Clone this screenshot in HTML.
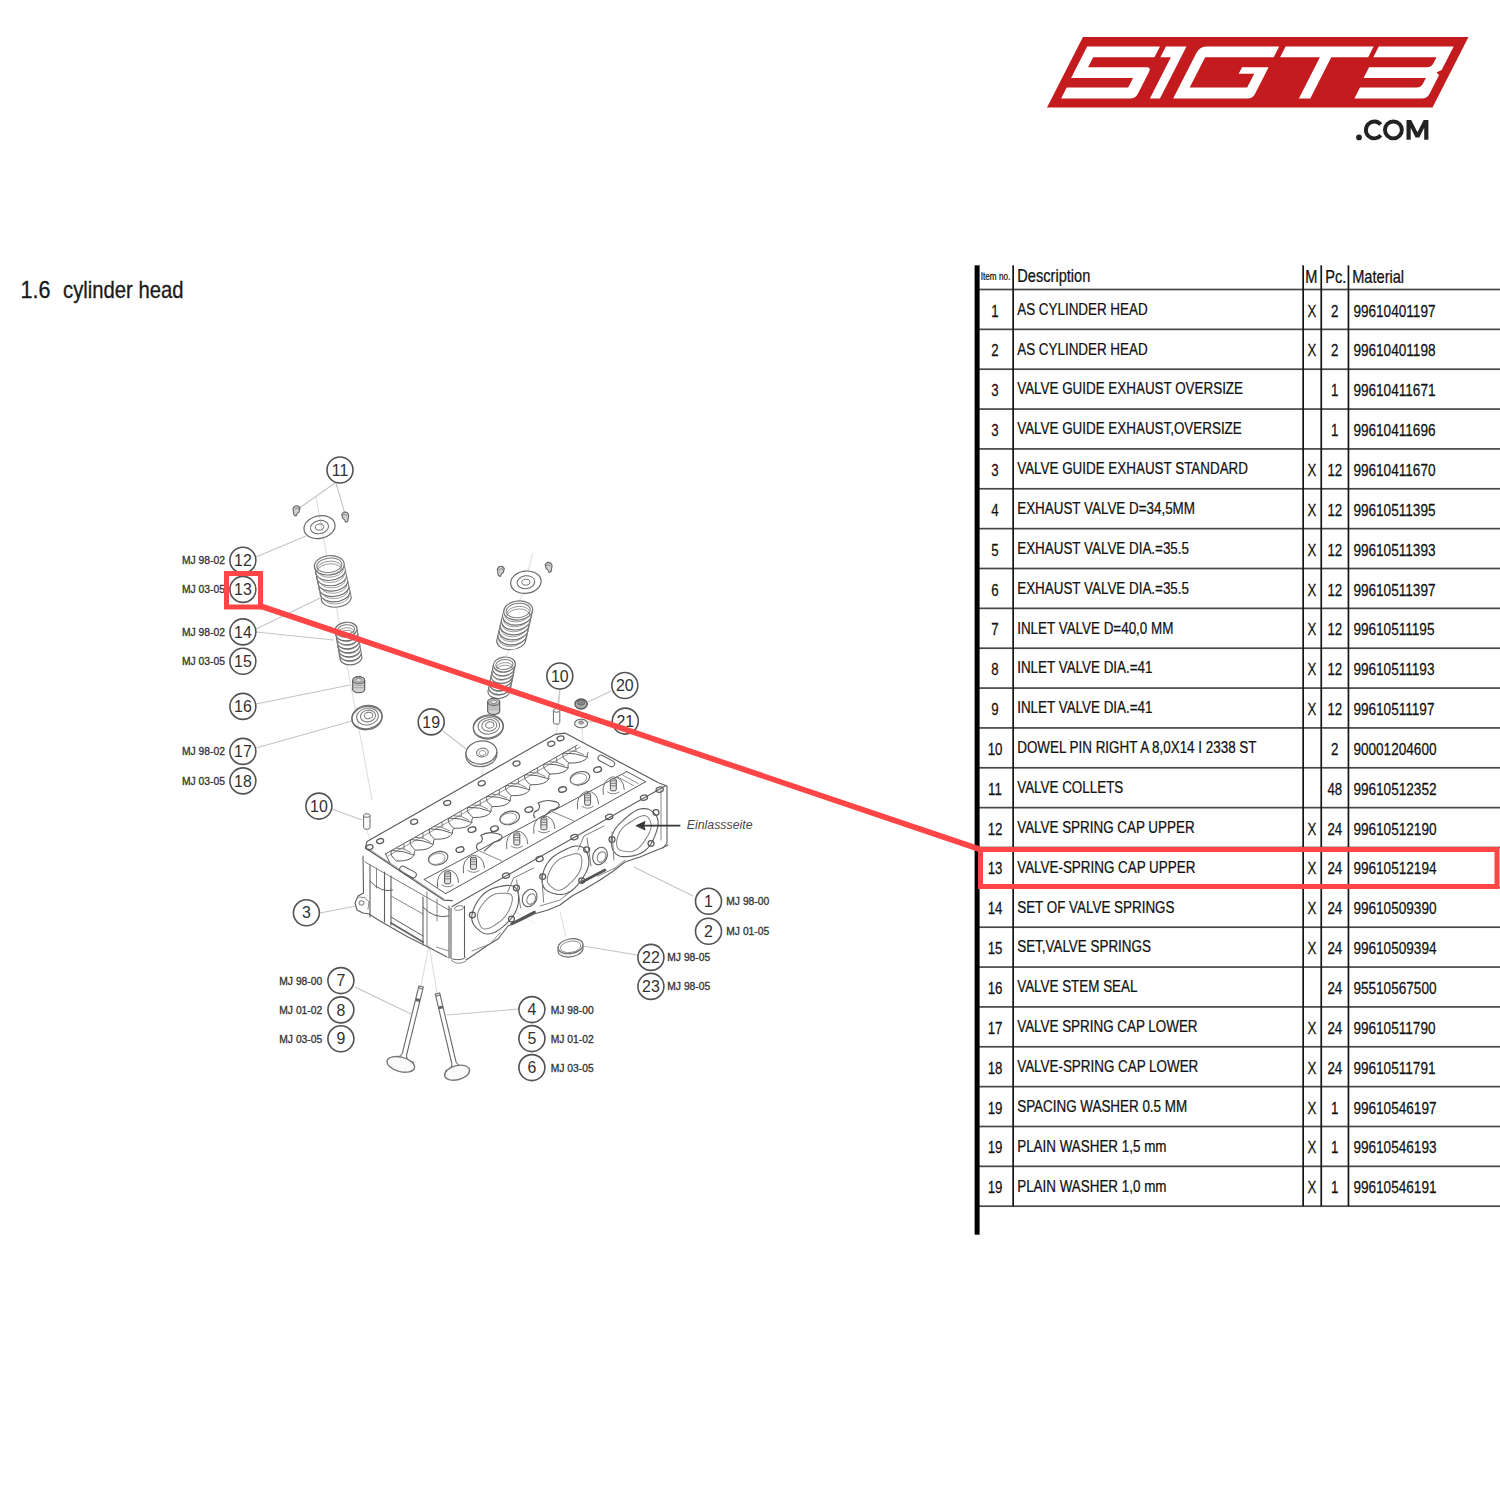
<!DOCTYPE html>
<html><head><meta charset="utf-8"><title>cylinder head</title>
<style>html,body{margin:0;padding:0;background:#fff;width:1500px;height:1500px;overflow:hidden}svg{display:block}</style>
</head><body>
<svg width="1500" height="1500" viewBox="0 0 1500 1500">
<rect width="1500" height="1500" fill="#fff"/>
<g transform="translate(0,107.6) skewX(-26.999) translate(0,-107.6)">
<rect x="1047" y="37" width="385.5" height="70.6" fill="#C31B1E"/>
<path fill="#FFFFFF" d="M1056 46.4 H1128.8 V57.2 H1067.5 V67.2 H1126 Q1130.8 67.2 1130.8 71.7 V93.4 Q1130.8 98.4 1125.8 98.4 H1056.5 V87.6 H1118 V78.0 H1056 Z"/>
<path fill="#FFFFFF" d="M1134.7 46.4 H1155.3 V98.4 H1145.2 V57.2 H1134.7 Z"/>
<path fill="#FFFFFF" d="M1175 46.4 H1248 V57.2 H1179.5 V87.6 H1237 V73.8 H1221.5 V67.2 H1248 V93.4 Q1248 98.4 1243 98.4 H1168.5 V52.9 Q1168.5 46.4 1175 46.4 Z"/>
<path fill="#FFFFFF" d="M1254.4 46.4 H1342.5 V57.2 H1305.6 V98.4 H1294.2 V57.2 H1254.4 Z"/>
<path fill="#FFFFFF" d="M1347.6 46.4 H1422.5 V70 L1418.5 72.5 L1422.5 75 V93.4 Q1422.5 98.4 1417.5 98.4 H1349.7 V87.6 H1406.5 Q1410.8 87.6 1410.8 83.6 V78.0 H1348.5 V67.2 H1406.5 Q1410.8 67.2 1410.8 63.2 V57.2 H1347.6 Z"/>
</g>
<circle cx="1359" cy="137.4" r="2.85" fill="#222222"/>
<path d="M1380.73 124.55 A8.4 8.4 0 1 0 1380.73 135.35" fill="none" stroke="#222222" stroke-width="3.9"/>
<circle cx="1393.4" cy="129.95" r="8.45" fill="none" stroke="#222222" stroke-width="3.9"/>
<path fill="#222222" d="M1406.5 139.8 V119.9 H1411.2 L1417.45 132.2 L1423.7 119.9 H1428.4 V139.8 H1424.2 V127.8 L1419.3 137.6 H1415.6 L1410.7 127.8 V139.8 Z"/>
<text x="20.5" y="297.7" font-family='"Liberation Sans", sans-serif' font-size="23.2" fill="#1a1a1a" stroke="#1a1a1a" stroke-width="0.3" textLength="30" lengthAdjust="spacingAndGlyphs">1.6</text>
<text x="63" y="297.7" font-family='"Liberation Sans", sans-serif' font-size="23.2" fill="#1a1a1a" stroke="#1a1a1a" stroke-width="0.3" textLength="120.5" lengthAdjust="spacingAndGlyphs">cylinder head</text>
<g>
<rect x="979" y="288.65" width="521" height="1.7" fill="#484848"/>
<rect x="979" y="328.51" width="521" height="1.7" fill="#484848"/>
<rect x="979" y="368.36" width="521" height="1.7" fill="#484848"/>
<rect x="979" y="408.22" width="521" height="1.7" fill="#484848"/>
<rect x="979" y="448.08" width="521" height="1.7" fill="#484848"/>
<rect x="979" y="487.93" width="521" height="1.7" fill="#484848"/>
<rect x="979" y="527.79" width="521" height="1.7" fill="#484848"/>
<rect x="979" y="567.65" width="521" height="1.7" fill="#484848"/>
<rect x="979" y="607.50" width="521" height="1.7" fill="#484848"/>
<rect x="979" y="647.36" width="521" height="1.7" fill="#484848"/>
<rect x="979" y="687.22" width="521" height="1.7" fill="#484848"/>
<rect x="979" y="727.07" width="521" height="1.7" fill="#484848"/>
<rect x="979" y="766.93" width="521" height="1.7" fill="#484848"/>
<rect x="979" y="806.78" width="521" height="1.7" fill="#484848"/>
<rect x="979" y="846.64" width="521" height="1.7" fill="#484848"/>
<rect x="979" y="886.50" width="521" height="1.7" fill="#484848"/>
<rect x="979" y="926.35" width="521" height="1.7" fill="#484848"/>
<rect x="979" y="966.21" width="521" height="1.7" fill="#484848"/>
<rect x="979" y="1006.07" width="521" height="1.7" fill="#484848"/>
<rect x="979" y="1045.92" width="521" height="1.7" fill="#484848"/>
<rect x="979" y="1085.78" width="521" height="1.7" fill="#484848"/>
<rect x="979" y="1125.64" width="521" height="1.7" fill="#484848"/>
<rect x="979" y="1165.49" width="521" height="1.7" fill="#484848"/>
<rect x="979" y="1205.35" width="521" height="1.7" fill="#484848"/>
<rect x="1012.3" y="265.3" width="1.7" height="940.90" fill="#151515"/>
<rect x="1302.3" y="265.3" width="1.7" height="940.90" fill="#151515"/>
<rect x="1320.4" y="265.3" width="1.7" height="940.90" fill="#151515"/>
<rect x="1347.6" y="265.3" width="1.7" height="940.90" fill="#151515"/>
<rect x="974.6" y="265.3" width="5" height="969.40" fill="#000"/>
<text transform="translate(980.80,279.90) scale(0.77,1)" text-anchor="start" font-family='"Liberation Sans", sans-serif' font-size="10.6" fill="#111" stroke="#111" stroke-width="0.25">Item no.</text>
<text transform="translate(1017.30,282.40) scale(0.83,1)" text-anchor="start" font-family='"Liberation Sans", sans-serif' font-size="17.6" fill="#111" stroke="#111" stroke-width="0.25">Description</text>
<text transform="translate(1311.30,282.60) scale(0.83,1)" text-anchor="middle" font-family='"Liberation Sans", sans-serif' font-size="17.6" fill="#111" stroke="#111" stroke-width="0.25">M</text>
<text transform="translate(1325.20,282.60) scale(0.83,1)" text-anchor="start" font-family='"Liberation Sans", sans-serif' font-size="17.6" fill="#111" stroke="#111" stroke-width="0.25">Pc.</text>
<text transform="translate(1352.20,282.60) scale(0.83,1)" text-anchor="start" font-family='"Liberation Sans", sans-serif' font-size="17.6" fill="#111" stroke="#111" stroke-width="0.25">Material</text>
<text transform="translate(995.00,316.50) scale(0.78,1)" text-anchor="middle" font-family='"Liberation Sans", sans-serif' font-size="17" fill="#111" stroke="#111" stroke-width="0.25">1</text>
<text transform="translate(1017.20,314.70) scale(0.79,1)" text-anchor="start" font-family='"Liberation Sans", sans-serif' font-size="17" fill="#111" stroke="#111" stroke-width="0.25">AS CYLINDER HEAD</text>
<text transform="translate(1312.00,316.50) scale(0.78,1)" text-anchor="middle" font-family='"Liberation Sans", sans-serif' font-size="17" fill="#111" stroke="#111" stroke-width="0.25">X</text>
<text transform="translate(1334.80,316.50) scale(0.78,1)" text-anchor="middle" font-family='"Liberation Sans", sans-serif' font-size="17" fill="#111" stroke="#111" stroke-width="0.25">2</text>
<text transform="translate(1353.40,316.50) scale(0.8,1)" text-anchor="start" font-family='"Liberation Sans", sans-serif' font-size="17" fill="#111" stroke="#111" stroke-width="0.25">99610401197</text>
<text transform="translate(995.00,356.36) scale(0.78,1)" text-anchor="middle" font-family='"Liberation Sans", sans-serif' font-size="17" fill="#111" stroke="#111" stroke-width="0.25">2</text>
<text transform="translate(1017.20,354.56) scale(0.79,1)" text-anchor="start" font-family='"Liberation Sans", sans-serif' font-size="17" fill="#111" stroke="#111" stroke-width="0.25">AS CYLINDER HEAD</text>
<text transform="translate(1312.00,356.36) scale(0.78,1)" text-anchor="middle" font-family='"Liberation Sans", sans-serif' font-size="17" fill="#111" stroke="#111" stroke-width="0.25">X</text>
<text transform="translate(1334.80,356.36) scale(0.78,1)" text-anchor="middle" font-family='"Liberation Sans", sans-serif' font-size="17" fill="#111" stroke="#111" stroke-width="0.25">2</text>
<text transform="translate(1353.40,356.36) scale(0.8,1)" text-anchor="start" font-family='"Liberation Sans", sans-serif' font-size="17" fill="#111" stroke="#111" stroke-width="0.25">99610401198</text>
<text transform="translate(995.00,396.21) scale(0.78,1)" text-anchor="middle" font-family='"Liberation Sans", sans-serif' font-size="17" fill="#111" stroke="#111" stroke-width="0.25">3</text>
<text transform="translate(1017.20,394.41) scale(0.79,1)" text-anchor="start" font-family='"Liberation Sans", sans-serif' font-size="17" fill="#111" stroke="#111" stroke-width="0.25">VALVE GUIDE EXHAUST OVERSIZE</text>
<text transform="translate(1334.80,396.21) scale(0.78,1)" text-anchor="middle" font-family='"Liberation Sans", sans-serif' font-size="17" fill="#111" stroke="#111" stroke-width="0.25">1</text>
<text transform="translate(1353.40,396.21) scale(0.8,1)" text-anchor="start" font-family='"Liberation Sans", sans-serif' font-size="17" fill="#111" stroke="#111" stroke-width="0.25">99610411671</text>
<text transform="translate(995.00,436.07) scale(0.78,1)" text-anchor="middle" font-family='"Liberation Sans", sans-serif' font-size="17" fill="#111" stroke="#111" stroke-width="0.25">3</text>
<text transform="translate(1017.20,434.27) scale(0.79,1)" text-anchor="start" font-family='"Liberation Sans", sans-serif' font-size="17" fill="#111" stroke="#111" stroke-width="0.25">VALVE GUIDE EXHAUST,OVERSIZE</text>
<text transform="translate(1334.80,436.07) scale(0.78,1)" text-anchor="middle" font-family='"Liberation Sans", sans-serif' font-size="17" fill="#111" stroke="#111" stroke-width="0.25">1</text>
<text transform="translate(1353.40,436.07) scale(0.8,1)" text-anchor="start" font-family='"Liberation Sans", sans-serif' font-size="17" fill="#111" stroke="#111" stroke-width="0.25">99610411696</text>
<text transform="translate(995.00,475.93) scale(0.78,1)" text-anchor="middle" font-family='"Liberation Sans", sans-serif' font-size="17" fill="#111" stroke="#111" stroke-width="0.25">3</text>
<text transform="translate(1017.20,474.13) scale(0.79,1)" text-anchor="start" font-family='"Liberation Sans", sans-serif' font-size="17" fill="#111" stroke="#111" stroke-width="0.25">VALVE GUIDE EXHAUST STANDARD</text>
<text transform="translate(1312.00,475.93) scale(0.78,1)" text-anchor="middle" font-family='"Liberation Sans", sans-serif' font-size="17" fill="#111" stroke="#111" stroke-width="0.25">X</text>
<text transform="translate(1334.80,475.93) scale(0.78,1)" text-anchor="middle" font-family='"Liberation Sans", sans-serif' font-size="17" fill="#111" stroke="#111" stroke-width="0.25">12</text>
<text transform="translate(1353.40,475.93) scale(0.8,1)" text-anchor="start" font-family='"Liberation Sans", sans-serif' font-size="17" fill="#111" stroke="#111" stroke-width="0.25">99610411670</text>
<text transform="translate(995.00,515.78) scale(0.78,1)" text-anchor="middle" font-family='"Liberation Sans", sans-serif' font-size="17" fill="#111" stroke="#111" stroke-width="0.25">4</text>
<text transform="translate(1017.20,513.98) scale(0.79,1)" text-anchor="start" font-family='"Liberation Sans", sans-serif' font-size="17" fill="#111" stroke="#111" stroke-width="0.25">EXHAUST VALVE D=34,5MM</text>
<text transform="translate(1312.00,515.78) scale(0.78,1)" text-anchor="middle" font-family='"Liberation Sans", sans-serif' font-size="17" fill="#111" stroke="#111" stroke-width="0.25">X</text>
<text transform="translate(1334.80,515.78) scale(0.78,1)" text-anchor="middle" font-family='"Liberation Sans", sans-serif' font-size="17" fill="#111" stroke="#111" stroke-width="0.25">12</text>
<text transform="translate(1353.40,515.78) scale(0.8,1)" text-anchor="start" font-family='"Liberation Sans", sans-serif' font-size="17" fill="#111" stroke="#111" stroke-width="0.25">99610511395</text>
<text transform="translate(995.00,555.64) scale(0.78,1)" text-anchor="middle" font-family='"Liberation Sans", sans-serif' font-size="17" fill="#111" stroke="#111" stroke-width="0.25">5</text>
<text transform="translate(1017.20,553.84) scale(0.79,1)" text-anchor="start" font-family='"Liberation Sans", sans-serif' font-size="17" fill="#111" stroke="#111" stroke-width="0.25">EXHAUST VALVE DIA.=35.5</text>
<text transform="translate(1312.00,555.64) scale(0.78,1)" text-anchor="middle" font-family='"Liberation Sans", sans-serif' font-size="17" fill="#111" stroke="#111" stroke-width="0.25">X</text>
<text transform="translate(1334.80,555.64) scale(0.78,1)" text-anchor="middle" font-family='"Liberation Sans", sans-serif' font-size="17" fill="#111" stroke="#111" stroke-width="0.25">12</text>
<text transform="translate(1353.40,555.64) scale(0.8,1)" text-anchor="start" font-family='"Liberation Sans", sans-serif' font-size="17" fill="#111" stroke="#111" stroke-width="0.25">99610511393</text>
<text transform="translate(995.00,595.50) scale(0.78,1)" text-anchor="middle" font-family='"Liberation Sans", sans-serif' font-size="17" fill="#111" stroke="#111" stroke-width="0.25">6</text>
<text transform="translate(1017.20,593.70) scale(0.79,1)" text-anchor="start" font-family='"Liberation Sans", sans-serif' font-size="17" fill="#111" stroke="#111" stroke-width="0.25">EXHAUST VALVE DIA.=35.5</text>
<text transform="translate(1312.00,595.50) scale(0.78,1)" text-anchor="middle" font-family='"Liberation Sans", sans-serif' font-size="17" fill="#111" stroke="#111" stroke-width="0.25">X</text>
<text transform="translate(1334.80,595.50) scale(0.78,1)" text-anchor="middle" font-family='"Liberation Sans", sans-serif' font-size="17" fill="#111" stroke="#111" stroke-width="0.25">12</text>
<text transform="translate(1353.40,595.50) scale(0.8,1)" text-anchor="start" font-family='"Liberation Sans", sans-serif' font-size="17" fill="#111" stroke="#111" stroke-width="0.25">99610511397</text>
<text transform="translate(995.00,635.35) scale(0.78,1)" text-anchor="middle" font-family='"Liberation Sans", sans-serif' font-size="17" fill="#111" stroke="#111" stroke-width="0.25">7</text>
<text transform="translate(1017.20,633.55) scale(0.79,1)" text-anchor="start" font-family='"Liberation Sans", sans-serif' font-size="17" fill="#111" stroke="#111" stroke-width="0.25">INLET VALVE D=40,0 MM</text>
<text transform="translate(1312.00,635.35) scale(0.78,1)" text-anchor="middle" font-family='"Liberation Sans", sans-serif' font-size="17" fill="#111" stroke="#111" stroke-width="0.25">X</text>
<text transform="translate(1334.80,635.35) scale(0.78,1)" text-anchor="middle" font-family='"Liberation Sans", sans-serif' font-size="17" fill="#111" stroke="#111" stroke-width="0.25">12</text>
<text transform="translate(1353.40,635.35) scale(0.8,1)" text-anchor="start" font-family='"Liberation Sans", sans-serif' font-size="17" fill="#111" stroke="#111" stroke-width="0.25">99610511195</text>
<text transform="translate(995.00,675.21) scale(0.78,1)" text-anchor="middle" font-family='"Liberation Sans", sans-serif' font-size="17" fill="#111" stroke="#111" stroke-width="0.25">8</text>
<text transform="translate(1017.20,673.41) scale(0.79,1)" text-anchor="start" font-family='"Liberation Sans", sans-serif' font-size="17" fill="#111" stroke="#111" stroke-width="0.25">INLET VALVE DIA.=41</text>
<text transform="translate(1312.00,675.21) scale(0.78,1)" text-anchor="middle" font-family='"Liberation Sans", sans-serif' font-size="17" fill="#111" stroke="#111" stroke-width="0.25">X</text>
<text transform="translate(1334.80,675.21) scale(0.78,1)" text-anchor="middle" font-family='"Liberation Sans", sans-serif' font-size="17" fill="#111" stroke="#111" stroke-width="0.25">12</text>
<text transform="translate(1353.40,675.21) scale(0.8,1)" text-anchor="start" font-family='"Liberation Sans", sans-serif' font-size="17" fill="#111" stroke="#111" stroke-width="0.25">99610511193</text>
<text transform="translate(995.00,715.07) scale(0.78,1)" text-anchor="middle" font-family='"Liberation Sans", sans-serif' font-size="17" fill="#111" stroke="#111" stroke-width="0.25">9</text>
<text transform="translate(1017.20,713.27) scale(0.79,1)" text-anchor="start" font-family='"Liberation Sans", sans-serif' font-size="17" fill="#111" stroke="#111" stroke-width="0.25">INLET VALVE DIA.=41</text>
<text transform="translate(1312.00,715.07) scale(0.78,1)" text-anchor="middle" font-family='"Liberation Sans", sans-serif' font-size="17" fill="#111" stroke="#111" stroke-width="0.25">X</text>
<text transform="translate(1334.80,715.07) scale(0.78,1)" text-anchor="middle" font-family='"Liberation Sans", sans-serif' font-size="17" fill="#111" stroke="#111" stroke-width="0.25">12</text>
<text transform="translate(1353.40,715.07) scale(0.8,1)" text-anchor="start" font-family='"Liberation Sans", sans-serif' font-size="17" fill="#111" stroke="#111" stroke-width="0.25">99610511197</text>
<text transform="translate(995.00,754.92) scale(0.78,1)" text-anchor="middle" font-family='"Liberation Sans", sans-serif' font-size="17" fill="#111" stroke="#111" stroke-width="0.25">10</text>
<text transform="translate(1017.20,753.12) scale(0.79,1)" text-anchor="start" font-family='"Liberation Sans", sans-serif' font-size="17" fill="#111" stroke="#111" stroke-width="0.25">DOWEL PIN RIGHT A 8,0X14 I 2338 ST</text>
<text transform="translate(1334.80,754.92) scale(0.78,1)" text-anchor="middle" font-family='"Liberation Sans", sans-serif' font-size="17" fill="#111" stroke="#111" stroke-width="0.25">2</text>
<text transform="translate(1353.40,754.92) scale(0.8,1)" text-anchor="start" font-family='"Liberation Sans", sans-serif' font-size="17" fill="#111" stroke="#111" stroke-width="0.25">90001204600</text>
<text transform="translate(995.00,794.78) scale(0.78,1)" text-anchor="middle" font-family='"Liberation Sans", sans-serif' font-size="17" fill="#111" stroke="#111" stroke-width="0.25">11</text>
<text transform="translate(1017.20,792.98) scale(0.79,1)" text-anchor="start" font-family='"Liberation Sans", sans-serif' font-size="17" fill="#111" stroke="#111" stroke-width="0.25">VALVE COLLETS</text>
<text transform="translate(1334.80,794.78) scale(0.78,1)" text-anchor="middle" font-family='"Liberation Sans", sans-serif' font-size="17" fill="#111" stroke="#111" stroke-width="0.25">48</text>
<text transform="translate(1353.40,794.78) scale(0.8,1)" text-anchor="start" font-family='"Liberation Sans", sans-serif' font-size="17" fill="#111" stroke="#111" stroke-width="0.25">99610512352</text>
<text transform="translate(995.00,834.63) scale(0.78,1)" text-anchor="middle" font-family='"Liberation Sans", sans-serif' font-size="17" fill="#111" stroke="#111" stroke-width="0.25">12</text>
<text transform="translate(1017.20,832.83) scale(0.79,1)" text-anchor="start" font-family='"Liberation Sans", sans-serif' font-size="17" fill="#111" stroke="#111" stroke-width="0.25">VALVE SPRING CAP UPPER</text>
<text transform="translate(1312.00,834.63) scale(0.78,1)" text-anchor="middle" font-family='"Liberation Sans", sans-serif' font-size="17" fill="#111" stroke="#111" stroke-width="0.25">X</text>
<text transform="translate(1334.80,834.63) scale(0.78,1)" text-anchor="middle" font-family='"Liberation Sans", sans-serif' font-size="17" fill="#111" stroke="#111" stroke-width="0.25">24</text>
<text transform="translate(1353.40,834.63) scale(0.8,1)" text-anchor="start" font-family='"Liberation Sans", sans-serif' font-size="17" fill="#111" stroke="#111" stroke-width="0.25">99610512190</text>
<text transform="translate(995.00,874.49) scale(0.78,1)" text-anchor="middle" font-family='"Liberation Sans", sans-serif' font-size="17" fill="#111" stroke="#111" stroke-width="0.25">13</text>
<text transform="translate(1017.20,872.69) scale(0.79,1)" text-anchor="start" font-family='"Liberation Sans", sans-serif' font-size="17" fill="#111" stroke="#111" stroke-width="0.25">VALVE-SPRING CAP UPPER</text>
<text transform="translate(1312.00,874.49) scale(0.78,1)" text-anchor="middle" font-family='"Liberation Sans", sans-serif' font-size="17" fill="#111" stroke="#111" stroke-width="0.25">X</text>
<text transform="translate(1334.80,874.49) scale(0.78,1)" text-anchor="middle" font-family='"Liberation Sans", sans-serif' font-size="17" fill="#111" stroke="#111" stroke-width="0.25">24</text>
<text transform="translate(1353.40,874.49) scale(0.8,1)" text-anchor="start" font-family='"Liberation Sans", sans-serif' font-size="17" fill="#111" stroke="#111" stroke-width="0.25">99610512194</text>
<text transform="translate(995.00,914.35) scale(0.78,1)" text-anchor="middle" font-family='"Liberation Sans", sans-serif' font-size="17" fill="#111" stroke="#111" stroke-width="0.25">14</text>
<text transform="translate(1017.20,912.55) scale(0.79,1)" text-anchor="start" font-family='"Liberation Sans", sans-serif' font-size="17" fill="#111" stroke="#111" stroke-width="0.25">SET OF VALVE SPRINGS</text>
<text transform="translate(1312.00,914.35) scale(0.78,1)" text-anchor="middle" font-family='"Liberation Sans", sans-serif' font-size="17" fill="#111" stroke="#111" stroke-width="0.25">X</text>
<text transform="translate(1334.80,914.35) scale(0.78,1)" text-anchor="middle" font-family='"Liberation Sans", sans-serif' font-size="17" fill="#111" stroke="#111" stroke-width="0.25">24</text>
<text transform="translate(1353.40,914.35) scale(0.8,1)" text-anchor="start" font-family='"Liberation Sans", sans-serif' font-size="17" fill="#111" stroke="#111" stroke-width="0.25">99610509390</text>
<text transform="translate(995.00,954.20) scale(0.78,1)" text-anchor="middle" font-family='"Liberation Sans", sans-serif' font-size="17" fill="#111" stroke="#111" stroke-width="0.25">15</text>
<text transform="translate(1017.20,952.40) scale(0.79,1)" text-anchor="start" font-family='"Liberation Sans", sans-serif' font-size="17" fill="#111" stroke="#111" stroke-width="0.25">SET,VALVE SPRINGS</text>
<text transform="translate(1312.00,954.20) scale(0.78,1)" text-anchor="middle" font-family='"Liberation Sans", sans-serif' font-size="17" fill="#111" stroke="#111" stroke-width="0.25">X</text>
<text transform="translate(1334.80,954.20) scale(0.78,1)" text-anchor="middle" font-family='"Liberation Sans", sans-serif' font-size="17" fill="#111" stroke="#111" stroke-width="0.25">24</text>
<text transform="translate(1353.40,954.20) scale(0.8,1)" text-anchor="start" font-family='"Liberation Sans", sans-serif' font-size="17" fill="#111" stroke="#111" stroke-width="0.25">99610509394</text>
<text transform="translate(995.00,994.06) scale(0.78,1)" text-anchor="middle" font-family='"Liberation Sans", sans-serif' font-size="17" fill="#111" stroke="#111" stroke-width="0.25">16</text>
<text transform="translate(1017.20,992.26) scale(0.79,1)" text-anchor="start" font-family='"Liberation Sans", sans-serif' font-size="17" fill="#111" stroke="#111" stroke-width="0.25">VALVE STEM SEAL</text>
<text transform="translate(1334.80,994.06) scale(0.78,1)" text-anchor="middle" font-family='"Liberation Sans", sans-serif' font-size="17" fill="#111" stroke="#111" stroke-width="0.25">24</text>
<text transform="translate(1353.40,994.06) scale(0.8,1)" text-anchor="start" font-family='"Liberation Sans", sans-serif' font-size="17" fill="#111" stroke="#111" stroke-width="0.25">95510567500</text>
<text transform="translate(995.00,1033.92) scale(0.78,1)" text-anchor="middle" font-family='"Liberation Sans", sans-serif' font-size="17" fill="#111" stroke="#111" stroke-width="0.25">17</text>
<text transform="translate(1017.20,1032.12) scale(0.79,1)" text-anchor="start" font-family='"Liberation Sans", sans-serif' font-size="17" fill="#111" stroke="#111" stroke-width="0.25">VALVE SPRING CAP LOWER</text>
<text transform="translate(1312.00,1033.92) scale(0.78,1)" text-anchor="middle" font-family='"Liberation Sans", sans-serif' font-size="17" fill="#111" stroke="#111" stroke-width="0.25">X</text>
<text transform="translate(1334.80,1033.92) scale(0.78,1)" text-anchor="middle" font-family='"Liberation Sans", sans-serif' font-size="17" fill="#111" stroke="#111" stroke-width="0.25">24</text>
<text transform="translate(1353.40,1033.92) scale(0.8,1)" text-anchor="start" font-family='"Liberation Sans", sans-serif' font-size="17" fill="#111" stroke="#111" stroke-width="0.25">99610511790</text>
<text transform="translate(995.00,1073.77) scale(0.78,1)" text-anchor="middle" font-family='"Liberation Sans", sans-serif' font-size="17" fill="#111" stroke="#111" stroke-width="0.25">18</text>
<text transform="translate(1017.20,1071.97) scale(0.79,1)" text-anchor="start" font-family='"Liberation Sans", sans-serif' font-size="17" fill="#111" stroke="#111" stroke-width="0.25">VALVE-SPRING CAP LOWER</text>
<text transform="translate(1312.00,1073.77) scale(0.78,1)" text-anchor="middle" font-family='"Liberation Sans", sans-serif' font-size="17" fill="#111" stroke="#111" stroke-width="0.25">X</text>
<text transform="translate(1334.80,1073.77) scale(0.78,1)" text-anchor="middle" font-family='"Liberation Sans", sans-serif' font-size="17" fill="#111" stroke="#111" stroke-width="0.25">24</text>
<text transform="translate(1353.40,1073.77) scale(0.8,1)" text-anchor="start" font-family='"Liberation Sans", sans-serif' font-size="17" fill="#111" stroke="#111" stroke-width="0.25">99610511791</text>
<text transform="translate(995.00,1113.63) scale(0.78,1)" text-anchor="middle" font-family='"Liberation Sans", sans-serif' font-size="17" fill="#111" stroke="#111" stroke-width="0.25">19</text>
<text transform="translate(1017.20,1111.83) scale(0.79,1)" text-anchor="start" font-family='"Liberation Sans", sans-serif' font-size="17" fill="#111" stroke="#111" stroke-width="0.25">SPACING WASHER 0.5 MM</text>
<text transform="translate(1312.00,1113.63) scale(0.78,1)" text-anchor="middle" font-family='"Liberation Sans", sans-serif' font-size="17" fill="#111" stroke="#111" stroke-width="0.25">X</text>
<text transform="translate(1334.80,1113.63) scale(0.78,1)" text-anchor="middle" font-family='"Liberation Sans", sans-serif' font-size="17" fill="#111" stroke="#111" stroke-width="0.25">1</text>
<text transform="translate(1353.40,1113.63) scale(0.8,1)" text-anchor="start" font-family='"Liberation Sans", sans-serif' font-size="17" fill="#111" stroke="#111" stroke-width="0.25">99610546197</text>
<text transform="translate(995.00,1153.49) scale(0.78,1)" text-anchor="middle" font-family='"Liberation Sans", sans-serif' font-size="17" fill="#111" stroke="#111" stroke-width="0.25">19</text>
<text transform="translate(1017.20,1151.69) scale(0.79,1)" text-anchor="start" font-family='"Liberation Sans", sans-serif' font-size="17" fill="#111" stroke="#111" stroke-width="0.25">PLAIN WASHER 1,5 mm</text>
<text transform="translate(1312.00,1153.49) scale(0.78,1)" text-anchor="middle" font-family='"Liberation Sans", sans-serif' font-size="17" fill="#111" stroke="#111" stroke-width="0.25">X</text>
<text transform="translate(1334.80,1153.49) scale(0.78,1)" text-anchor="middle" font-family='"Liberation Sans", sans-serif' font-size="17" fill="#111" stroke="#111" stroke-width="0.25">1</text>
<text transform="translate(1353.40,1153.49) scale(0.8,1)" text-anchor="start" font-family='"Liberation Sans", sans-serif' font-size="17" fill="#111" stroke="#111" stroke-width="0.25">99610546193</text>
<text transform="translate(995.00,1193.34) scale(0.78,1)" text-anchor="middle" font-family='"Liberation Sans", sans-serif' font-size="17" fill="#111" stroke="#111" stroke-width="0.25">19</text>
<text transform="translate(1017.20,1191.54) scale(0.79,1)" text-anchor="start" font-family='"Liberation Sans", sans-serif' font-size="17" fill="#111" stroke="#111" stroke-width="0.25">PLAIN WASHER 1,0 mm</text>
<text transform="translate(1312.00,1193.34) scale(0.78,1)" text-anchor="middle" font-family='"Liberation Sans", sans-serif' font-size="17" fill="#111" stroke="#111" stroke-width="0.25">X</text>
<text transform="translate(1334.80,1193.34) scale(0.78,1)" text-anchor="middle" font-family='"Liberation Sans", sans-serif' font-size="17" fill="#111" stroke="#111" stroke-width="0.25">1</text>
<text transform="translate(1353.40,1193.34) scale(0.8,1)" text-anchor="start" font-family='"Liberation Sans", sans-serif' font-size="17" fill="#111" stroke="#111" stroke-width="0.25">99610546191</text>
</g>
<line x1="316.0" y1="497.0" x2="372.0" y2="800.0" stroke="#dcdcdc" stroke-width="1.0"/>
<line x1="533.0" y1="553.0" x2="528.0" y2="571.0" stroke="#dcdcdc" stroke-width="1.0"/>
<line x1="523.0" y1="594.0" x2="519.0" y2="601.0" stroke="#dcdcdc" stroke-width="1.0"/>
<line x1="509.0" y1="650.0" x2="506.0" y2="656.0" stroke="#dcdcdc" stroke-width="1.0"/>
<line x1="484.0" y1="765.0" x2="470.0" y2="830.0" stroke="#dcdcdc" stroke-width="1.0"/>
<line x1="560.0" y1="690.0" x2="556.0" y2="742.0" stroke="#dcdcdc" stroke-width="1.0"/>
<line x1="581.0" y1="712.0" x2="583.0" y2="742.0" stroke="#dcdcdc" stroke-width="1.0"/>
<line x1="429.0" y1="945.0" x2="421.0" y2="986.0" stroke="#dcdcdc" stroke-width="1.0"/>
<line x1="429.0" y1="945.0" x2="437.0" y2="993.0" stroke="#dcdcdc" stroke-width="1.0"/>
<line x1="366.0" y1="828.0" x2="372.0" y2="845.0" stroke="#dcdcdc" stroke-width="1.0"/>
<line x1="566.0" y1="937.0" x2="560.0" y2="912.0" stroke="#dcdcdc" stroke-width="1.0"/>
<line x1="335.0" y1="483.0" x2="298.0" y2="509.0" stroke="#c4c4c4" stroke-width="1.1"/>
<line x1="336.0" y1="483.0" x2="345.0" y2="514.0" stroke="#c4c4c4" stroke-width="1.1"/>
<line x1="256.0" y1="557.0" x2="306.0" y2="536.0" stroke="#c4c4c4" stroke-width="1.1"/>
<line x1="256.0" y1="629.0" x2="320.0" y2="598.0" stroke="#c4c4c4" stroke-width="1.1"/>
<line x1="256.0" y1="632.0" x2="334.0" y2="640.0" stroke="#c4c4c4" stroke-width="1.1"/>
<line x1="256.0" y1="704.0" x2="350.0" y2="685.0" stroke="#c4c4c4" stroke-width="1.1"/>
<line x1="256.0" y1="748.0" x2="352.0" y2="721.0" stroke="#c4c4c4" stroke-width="1.1"/>
<line x1="443.0" y1="731.0" x2="466.0" y2="749.0" stroke="#c4c4c4" stroke-width="1.1"/>
<line x1="611.0" y1="691.0" x2="588.0" y2="702.0" stroke="#c4c4c4" stroke-width="1.1"/>
<line x1="612.0" y1="721.0" x2="588.0" y2="722.0" stroke="#c4c4c4" stroke-width="1.1"/>
<line x1="332.0" y1="809.0" x2="362.0" y2="820.0" stroke="#c4c4c4" stroke-width="1.1"/>
<line x1="320.0" y1="913.0" x2="356.0" y2="906.0" stroke="#c4c4c4" stroke-width="1.1"/>
<line x1="693.0" y1="896.0" x2="634.0" y2="867.0" stroke="#c4c4c4" stroke-width="1.1"/>
<line x1="637.0" y1="955.0" x2="583.0" y2="946.0" stroke="#c4c4c4" stroke-width="1.1"/>
<line x1="355.0" y1="987.0" x2="411.0" y2="1014.0" stroke="#c4c4c4" stroke-width="1.1"/>
<line x1="519.0" y1="1009.0" x2="447.0" y2="1015.0" stroke="#c4c4c4" stroke-width="1.1"/>
<line x1="560.0" y1="689.0" x2="557.0" y2="710.0" stroke="#c4c4c4" stroke-width="1.1"/>
<path d="M294.0 515.0 L293.0 509.0 Q294.0 505.0 298.0 506.0 L300.0 508.0 L299.0 512.0 Q297.0 513.0 296.0 516.0 Z" fill="#cfcfcf" stroke="#666" stroke-width="1.1" stroke-linejoin="round" stroke-linecap="round"/>
<path d="M295.0 509.0 Q297.0 507.0 299.0 509.0" fill="none" stroke="#777" stroke-width="0.8" stroke-linejoin="round" stroke-linecap="round"/>
<path d="M347.7 521.3 L348.7 515.3 Q347.7 511.3 343.7 512.3 L341.7 514.3 L342.7 518.3 Q344.7 519.3 345.7 522.3 Z" fill="#cfcfcf" stroke="#666" stroke-width="1.1" stroke-linejoin="round" stroke-linecap="round"/>
<path d="M346.7 515.3 Q344.7 513.3 342.7 515.3" fill="none" stroke="#777" stroke-width="0.8" stroke-linejoin="round" stroke-linecap="round"/>
<ellipse cx="319.5" cy="527.1" rx="15.7" ry="11.3" transform="rotate(-12 319.5 527.1)" fill="none" stroke="#6a6a6a" stroke-width="1.2"/>
<ellipse cx="319.5" cy="527.1" rx="9.1" ry="6.6" transform="rotate(-12 319.5 527.1)" fill="none" stroke="#6a6a6a" stroke-width="1.0"/>
<ellipse cx="319.5" cy="527.1" rx="4.2" ry="3.1" transform="rotate(-12 319.5 527.1)" fill="none" stroke="#6a6a6a" stroke-width="0.9"/>
<path d="M321.3 597.5 A15.0 9.6 -6 0 0 351.3 597.5" fill="#fff" stroke="#6e6e6e" stroke-width="1.15" stroke-linejoin="round" stroke-linecap="round"/>
<path d="M323.3 596.3 A13.0 7.6 -6 0 0 349.3 596.3" fill="none" stroke="#8c8c8c" stroke-width="0.85" stroke-linejoin="round" stroke-linecap="round"/>
<path d="M320.1 592.1 A15.0 9.6 -6 0 0 350.1 592.1" fill="#fff" stroke="#6e6e6e" stroke-width="1.15" stroke-linejoin="round" stroke-linecap="round"/>
<path d="M322.1 590.9 A13.0 7.6 -6 0 0 348.1 590.9" fill="none" stroke="#8c8c8c" stroke-width="0.85" stroke-linejoin="round" stroke-linecap="round"/>
<path d="M319.0 586.8 A15.0 9.6 -6 0 0 349.0 586.8" fill="#fff" stroke="#6e6e6e" stroke-width="1.15" stroke-linejoin="round" stroke-linecap="round"/>
<path d="M321.0 585.6 A13.0 7.6 -6 0 0 347.0 585.6" fill="none" stroke="#8c8c8c" stroke-width="0.85" stroke-linejoin="round" stroke-linecap="round"/>
<path d="M317.8 581.4 A15.0 9.6 -6 0 0 347.8 581.4" fill="#fff" stroke="#6e6e6e" stroke-width="1.15" stroke-linejoin="round" stroke-linecap="round"/>
<path d="M319.8 580.2 A13.0 7.6 -6 0 0 345.8 580.2" fill="none" stroke="#8c8c8c" stroke-width="0.85" stroke-linejoin="round" stroke-linecap="round"/>
<path d="M316.6 576.0 A15.0 9.6 -6 0 0 346.6 576.0" fill="#fff" stroke="#6e6e6e" stroke-width="1.15" stroke-linejoin="round" stroke-linecap="round"/>
<path d="M318.6 574.8 A13.0 7.6 -6 0 0 344.6 574.8" fill="none" stroke="#8c8c8c" stroke-width="0.85" stroke-linejoin="round" stroke-linecap="round"/>
<path d="M315.5 570.7 A15.0 9.6 -6 0 0 345.5 570.7" fill="#fff" stroke="#6e6e6e" stroke-width="1.15" stroke-linejoin="round" stroke-linecap="round"/>
<path d="M317.5 569.5 A13.0 7.6 -6 0 0 343.5 569.5" fill="none" stroke="#8c8c8c" stroke-width="0.85" stroke-linejoin="round" stroke-linecap="round"/>
<ellipse cx="329.3" cy="565.3" rx="15.0" ry="9.6" transform="rotate(-6 329.3 565.3)" fill="#fff" stroke="#6e6e6e" stroke-width="1.15"/>
<ellipse cx="329.3" cy="565.3" rx="12.6" ry="7.2" transform="rotate(-6 329.3 565.3)" fill="none" stroke="#7a7a7a" stroke-width="1.0"/>
<path d="M317.3 567.9 A12.0 6.6 -6 0 1 341.3 567.9" fill="none" stroke="#8a8a8a" stroke-width="0.9" stroke-linejoin="round" stroke-linecap="round"/>
<path d="M317.3 570.5 A12.0 6.6 -6 0 1 341.3 570.5" fill="none" stroke="#8a8a8a" stroke-width="0.9" stroke-linejoin="round" stroke-linecap="round"/>
<line x1="314.3" y1="565.3" x2="321.3" y2="597.5" stroke="#7a7a7a" stroke-width="1.0"/>
<line x1="344.3" y1="565.3" x2="351.3" y2="597.5" stroke="#7a7a7a" stroke-width="1.0"/>
<path d="M340.0 657.5 A11.0 7.2 -6 0 0 362.0 657.5" fill="#fff" stroke="#6e6e6e" stroke-width="1.15" stroke-linejoin="round" stroke-linecap="round"/>
<path d="M342.0 656.3 A9.0 5.2 -6 0 0 360.0 656.3" fill="none" stroke="#8c8c8c" stroke-width="0.85" stroke-linejoin="round" stroke-linecap="round"/>
<path d="M339.3 653.5 A11.0 7.2 -6 0 0 361.3 653.5" fill="#fff" stroke="#6e6e6e" stroke-width="1.15" stroke-linejoin="round" stroke-linecap="round"/>
<path d="M341.3 652.3 A9.0 5.2 -6 0 0 359.3 652.3" fill="none" stroke="#8c8c8c" stroke-width="0.85" stroke-linejoin="round" stroke-linecap="round"/>
<path d="M338.6 649.5 A11.0 7.2 -6 0 0 360.6 649.5" fill="#fff" stroke="#6e6e6e" stroke-width="1.15" stroke-linejoin="round" stroke-linecap="round"/>
<path d="M340.6 648.3 A9.0 5.2 -6 0 0 358.6 648.3" fill="none" stroke="#8c8c8c" stroke-width="0.85" stroke-linejoin="round" stroke-linecap="round"/>
<path d="M337.9 645.5 A11.0 7.2 -6 0 0 359.9 645.5" fill="#fff" stroke="#6e6e6e" stroke-width="1.15" stroke-linejoin="round" stroke-linecap="round"/>
<path d="M339.9 644.3 A9.0 5.2 -6 0 0 357.9 644.3" fill="none" stroke="#8c8c8c" stroke-width="0.85" stroke-linejoin="round" stroke-linecap="round"/>
<path d="M337.2 641.5 A11.0 7.2 -6 0 0 359.2 641.5" fill="#fff" stroke="#6e6e6e" stroke-width="1.15" stroke-linejoin="round" stroke-linecap="round"/>
<path d="M339.2 640.3 A9.0 5.2 -6 0 0 357.2 640.3" fill="none" stroke="#8c8c8c" stroke-width="0.85" stroke-linejoin="round" stroke-linecap="round"/>
<path d="M336.5 637.5 A11.0 7.2 -6 0 0 358.5 637.5" fill="#fff" stroke="#6e6e6e" stroke-width="1.15" stroke-linejoin="round" stroke-linecap="round"/>
<path d="M338.5 636.3 A9.0 5.2 -6 0 0 356.5 636.3" fill="none" stroke="#8c8c8c" stroke-width="0.85" stroke-linejoin="round" stroke-linecap="round"/>
<path d="M335.8 633.5 A11.0 7.2 -6 0 0 357.8 633.5" fill="#fff" stroke="#6e6e6e" stroke-width="1.15" stroke-linejoin="round" stroke-linecap="round"/>
<path d="M337.8 632.3 A9.0 5.2 -6 0 0 355.8 632.3" fill="none" stroke="#8c8c8c" stroke-width="0.85" stroke-linejoin="round" stroke-linecap="round"/>
<ellipse cx="346.1" cy="629.5" rx="11.0" ry="7.2" transform="rotate(-6 346.1 629.5)" fill="#fff" stroke="#6e6e6e" stroke-width="1.15"/>
<ellipse cx="346.1" cy="629.5" rx="8.6" ry="4.8" transform="rotate(-6 346.1 629.5)" fill="none" stroke="#7a7a7a" stroke-width="1.0"/>
<path d="M338.1 632.1 A8.0 4.2 -6 0 1 354.1 632.1" fill="none" stroke="#8a8a8a" stroke-width="0.9" stroke-linejoin="round" stroke-linecap="round"/>
<path d="M338.1 634.7 A8.0 4.2 -6 0 1 354.1 634.7" fill="none" stroke="#8a8a8a" stroke-width="0.9" stroke-linejoin="round" stroke-linecap="round"/>
<line x1="335.1" y1="629.5" x2="340.0" y2="657.5" stroke="#7a7a7a" stroke-width="1.0"/>
<line x1="357.1" y1="629.5" x2="362.0" y2="657.5" stroke="#7a7a7a" stroke-width="1.0"/>
<path d="M352.7 680.2 V689.2 A6 3.5999999999999996 0 0 0 364.7 689.2 V680.2" fill="#d0d0d0" stroke="#555" stroke-width="1.1" stroke-linejoin="round" stroke-linecap="round"/>
<ellipse cx="358.7" cy="680.2" rx="6.0" ry="3.6" transform="rotate(0 358.7 680.2)" fill="#bdbdbd" stroke="#555" stroke-width="1.1"/>
<ellipse cx="358.7" cy="680.2" rx="3.0" ry="1.8" transform="rotate(0 358.7 680.2)" fill="#e0e0e0" stroke="#777" stroke-width="0.8"/>
<line x1="353.7" y1="683.2" x2="363.7" y2="683.2" stroke="#999" stroke-width="0.7"/>
<line x1="353.7" y1="685.4" x2="363.7" y2="685.4" stroke="#999" stroke-width="0.7"/>
<line x1="353.7" y1="687.6" x2="363.7" y2="687.6" stroke="#999" stroke-width="0.7"/>
<ellipse cx="367.0" cy="718.0" rx="15.2" ry="11.6" transform="rotate(-10 367.0 718.0)" fill="none" stroke="#777" stroke-width="1.3"/>
<ellipse cx="367.0" cy="717.0" rx="15.2" ry="11.6" transform="rotate(-10 367.0 717.0)" fill="none" stroke="#6a6a6a" stroke-width="1.1"/>
<ellipse cx="367.5" cy="716.5" rx="10.9" ry="8.4" transform="rotate(-10 367.5 716.5)" fill="none" stroke="#7a7a7a" stroke-width="1.0"/>
<ellipse cx="368.0" cy="716.0" rx="7.6" ry="5.8" transform="rotate(-10 368.0 716.0)" fill="none" stroke="#7a7a7a" stroke-width="1.0"/>
<ellipse cx="368.5" cy="715.5" rx="4.3" ry="3.2" transform="rotate(-10 368.5 715.5)" fill="none" stroke="#777" stroke-width="1.0"/>
<path d="M498.3 575.5 L497.3 569.5 Q498.3 565.5 502.3 566.5 L504.3 568.5 L503.3 572.5 Q501.3 573.5 500.3 576.5 Z" fill="#cfcfcf" stroke="#666" stroke-width="1.1" stroke-linejoin="round" stroke-linecap="round"/>
<path d="M499.3 569.5 Q501.3 567.5 503.3 569.5" fill="none" stroke="#777" stroke-width="0.8" stroke-linejoin="round" stroke-linecap="round"/>
<path d="M551.1 571.6 L552.1 565.6 Q551.1 561.6 547.1 562.6 L545.1 564.6 L546.1 568.6 Q548.1 569.6 549.1 572.6 Z" fill="#cfcfcf" stroke="#666" stroke-width="1.1" stroke-linejoin="round" stroke-linecap="round"/>
<path d="M550.1 565.6 Q548.1 563.6 546.1 565.6" fill="none" stroke="#777" stroke-width="0.8" stroke-linejoin="round" stroke-linecap="round"/>
<ellipse cx="525.9" cy="582.2" rx="15.3" ry="11.1" transform="rotate(-8 525.9 582.2)" fill="none" stroke="#6a6a6a" stroke-width="1.2"/>
<ellipse cx="525.9" cy="582.2" rx="8.9" ry="6.4" transform="rotate(-8 525.9 582.2)" fill="none" stroke="#6a6a6a" stroke-width="1.0"/>
<ellipse cx="525.9" cy="582.2" rx="4.1" ry="3.0" transform="rotate(-8 525.9 582.2)" fill="none" stroke="#6a6a6a" stroke-width="0.9"/>
<path d="M496.8 640.0 A14.5 9.6 -6 0 0 525.8 640.0" fill="#fff" stroke="#6e6e6e" stroke-width="1.15" stroke-linejoin="round" stroke-linecap="round"/>
<path d="M498.8 638.8 A12.5 7.6 -6 0 0 523.8 638.8" fill="none" stroke="#8c8c8c" stroke-width="0.85" stroke-linejoin="round" stroke-linecap="round"/>
<path d="M498.0 635.1 A14.5 9.6 -6 0 0 527.0 635.1" fill="#fff" stroke="#6e6e6e" stroke-width="1.15" stroke-linejoin="round" stroke-linecap="round"/>
<path d="M500.0 633.9 A12.5 7.6 -6 0 0 525.0 633.9" fill="none" stroke="#8c8c8c" stroke-width="0.85" stroke-linejoin="round" stroke-linecap="round"/>
<path d="M499.1 630.2 A14.5 9.6 -6 0 0 528.1 630.2" fill="#fff" stroke="#6e6e6e" stroke-width="1.15" stroke-linejoin="round" stroke-linecap="round"/>
<path d="M501.1 629.0 A12.5 7.6 -6 0 0 526.1 629.0" fill="none" stroke="#8c8c8c" stroke-width="0.85" stroke-linejoin="round" stroke-linecap="round"/>
<path d="M500.2 625.2 A14.5 9.6 -6 0 0 529.2 625.2" fill="#fff" stroke="#6e6e6e" stroke-width="1.15" stroke-linejoin="round" stroke-linecap="round"/>
<path d="M502.2 624.0 A12.5 7.6 -6 0 0 527.2 624.0" fill="none" stroke="#8c8c8c" stroke-width="0.85" stroke-linejoin="round" stroke-linecap="round"/>
<path d="M501.4 620.3 A14.5 9.6 -6 0 0 530.4 620.3" fill="#fff" stroke="#6e6e6e" stroke-width="1.15" stroke-linejoin="round" stroke-linecap="round"/>
<path d="M503.4 619.1 A12.5 7.6 -6 0 0 528.4 619.1" fill="none" stroke="#8c8c8c" stroke-width="0.85" stroke-linejoin="round" stroke-linecap="round"/>
<path d="M502.6 615.4 A14.5 9.6 -6 0 0 531.6 615.4" fill="#fff" stroke="#6e6e6e" stroke-width="1.15" stroke-linejoin="round" stroke-linecap="round"/>
<path d="M504.6 614.2 A12.5 7.6 -6 0 0 529.6 614.2" fill="none" stroke="#8c8c8c" stroke-width="0.85" stroke-linejoin="round" stroke-linecap="round"/>
<ellipse cx="518.2" cy="610.5" rx="14.5" ry="9.6" transform="rotate(-6 518.2 610.5)" fill="#fff" stroke="#6e6e6e" stroke-width="1.15"/>
<ellipse cx="518.2" cy="610.5" rx="12.1" ry="7.2" transform="rotate(-6 518.2 610.5)" fill="none" stroke="#7a7a7a" stroke-width="1.0"/>
<path d="M506.7 613.1 A11.5 6.6 -6 0 1 529.7 613.1" fill="none" stroke="#8a8a8a" stroke-width="0.9" stroke-linejoin="round" stroke-linecap="round"/>
<path d="M506.7 615.7 A11.5 6.6 -6 0 1 529.7 615.7" fill="none" stroke="#8a8a8a" stroke-width="0.9" stroke-linejoin="round" stroke-linecap="round"/>
<line x1="503.7" y1="610.5" x2="496.8" y2="640.0" stroke="#7a7a7a" stroke-width="1.0"/>
<line x1="532.7" y1="610.5" x2="525.8" y2="640.0" stroke="#7a7a7a" stroke-width="1.0"/>
<path d="M488.0 691.0 A11.0 7.4 -6 0 0 510.0 691.0" fill="#fff" stroke="#6e6e6e" stroke-width="1.15" stroke-linejoin="round" stroke-linecap="round"/>
<path d="M490.0 689.8 A9.0 5.4 -6 0 0 508.0 689.8" fill="none" stroke="#8c8c8c" stroke-width="0.85" stroke-linejoin="round" stroke-linecap="round"/>
<path d="M488.8 687.2 A11.0 7.4 -6 0 0 510.8 687.2" fill="#fff" stroke="#6e6e6e" stroke-width="1.15" stroke-linejoin="round" stroke-linecap="round"/>
<path d="M490.8 686.0 A9.0 5.4 -6 0 0 508.8 686.0" fill="none" stroke="#8c8c8c" stroke-width="0.85" stroke-linejoin="round" stroke-linecap="round"/>
<path d="M489.5 683.4 A11.0 7.4 -6 0 0 511.5 683.4" fill="#fff" stroke="#6e6e6e" stroke-width="1.15" stroke-linejoin="round" stroke-linecap="round"/>
<path d="M491.5 682.2 A9.0 5.4 -6 0 0 509.5 682.2" fill="none" stroke="#8c8c8c" stroke-width="0.85" stroke-linejoin="round" stroke-linecap="round"/>
<path d="M490.3 679.6 A11.0 7.4 -6 0 0 512.3 679.6" fill="#fff" stroke="#6e6e6e" stroke-width="1.15" stroke-linejoin="round" stroke-linecap="round"/>
<path d="M492.3 678.4 A9.0 5.4 -6 0 0 510.3 678.4" fill="none" stroke="#8c8c8c" stroke-width="0.85" stroke-linejoin="round" stroke-linecap="round"/>
<path d="M491.1 675.9 A11.0 7.4 -6 0 0 513.1 675.9" fill="#fff" stroke="#6e6e6e" stroke-width="1.15" stroke-linejoin="round" stroke-linecap="round"/>
<path d="M493.1 674.7 A9.0 5.4 -6 0 0 511.1 674.7" fill="none" stroke="#8c8c8c" stroke-width="0.85" stroke-linejoin="round" stroke-linecap="round"/>
<path d="M491.9 672.1 A11.0 7.4 -6 0 0 513.9 672.1" fill="#fff" stroke="#6e6e6e" stroke-width="1.15" stroke-linejoin="round" stroke-linecap="round"/>
<path d="M493.9 670.9 A9.0 5.4 -6 0 0 511.9 670.9" fill="none" stroke="#8c8c8c" stroke-width="0.85" stroke-linejoin="round" stroke-linecap="round"/>
<path d="M492.6 668.3 A11.0 7.4 -6 0 0 514.6 668.3" fill="#fff" stroke="#6e6e6e" stroke-width="1.15" stroke-linejoin="round" stroke-linecap="round"/>
<path d="M494.6 667.1 A9.0 5.4 -6 0 0 512.6 667.1" fill="none" stroke="#8c8c8c" stroke-width="0.85" stroke-linejoin="round" stroke-linecap="round"/>
<ellipse cx="504.4" cy="664.5" rx="11.0" ry="7.4" transform="rotate(-6 504.4 664.5)" fill="#fff" stroke="#6e6e6e" stroke-width="1.15"/>
<ellipse cx="504.4" cy="664.5" rx="8.6" ry="5.0" transform="rotate(-6 504.4 664.5)" fill="none" stroke="#7a7a7a" stroke-width="1.0"/>
<path d="M496.4 667.1 A8.0 4.4 -6 0 1 512.4 667.1" fill="none" stroke="#8a8a8a" stroke-width="0.9" stroke-linejoin="round" stroke-linecap="round"/>
<path d="M496.4 669.7 A8.0 4.4 -6 0 1 512.4 669.7" fill="none" stroke="#8a8a8a" stroke-width="0.9" stroke-linejoin="round" stroke-linecap="round"/>
<line x1="493.4" y1="664.5" x2="488.0" y2="691.0" stroke="#7a7a7a" stroke-width="1.0"/>
<line x1="515.4" y1="664.5" x2="510.0" y2="691.0" stroke="#7a7a7a" stroke-width="1.0"/>
<path d="M487.7 701.9 V710.9 A6 3.5999999999999996 0 0 0 499.7 710.9 V701.9" fill="#d0d0d0" stroke="#555" stroke-width="1.1" stroke-linejoin="round" stroke-linecap="round"/>
<ellipse cx="493.7" cy="701.9" rx="6.0" ry="3.6" transform="rotate(0 493.7 701.9)" fill="#bdbdbd" stroke="#555" stroke-width="1.1"/>
<ellipse cx="493.7" cy="701.9" rx="3.0" ry="1.8" transform="rotate(0 493.7 701.9)" fill="#e0e0e0" stroke="#777" stroke-width="0.8"/>
<line x1="488.7" y1="704.9" x2="498.7" y2="704.9" stroke="#999" stroke-width="0.7"/>
<line x1="488.7" y1="707.1" x2="498.7" y2="707.1" stroke="#999" stroke-width="0.7"/>
<line x1="488.7" y1="709.3" x2="498.7" y2="709.3" stroke="#999" stroke-width="0.7"/>
<ellipse cx="488.3" cy="727.4" rx="15.0" ry="11.5" transform="rotate(-8 488.3 727.4)" fill="none" stroke="#777" stroke-width="1.3"/>
<ellipse cx="488.3" cy="726.4" rx="15.0" ry="11.5" transform="rotate(-8 488.3 726.4)" fill="none" stroke="#6a6a6a" stroke-width="1.1"/>
<ellipse cx="488.8" cy="725.9" rx="10.8" ry="8.3" transform="rotate(-8 488.8 725.9)" fill="none" stroke="#7a7a7a" stroke-width="1.0"/>
<ellipse cx="489.3" cy="725.4" rx="7.5" ry="5.8" transform="rotate(-8 489.3 725.4)" fill="none" stroke="#7a7a7a" stroke-width="1.0"/>
<ellipse cx="489.8" cy="724.9" rx="4.2" ry="3.2" transform="rotate(-8 489.8 724.9)" fill="none" stroke="#777" stroke-width="1.0"/>
<path d="M465.9 752.5 V755.0 A15.5 11.5 -8 0 0 496.9 755.0 V752.5" fill="#f6f6f6" stroke="#6a6a6a" stroke-width="1.1" stroke-linejoin="round" stroke-linecap="round"/>
<ellipse cx="481.4" cy="752.5" rx="15.5" ry="11.5" transform="rotate(-8 481.4 752.5)" fill="#fff" stroke="#6a6a6a" stroke-width="1.2"/>
<ellipse cx="482.4" cy="752.5" rx="5.9" ry="4.4" transform="rotate(-8 482.4 752.5)" fill="none" stroke="#6a6a6a" stroke-width="1.0"/>
<ellipse cx="482.4" cy="753.0" rx="3.4" ry="2.5" transform="rotate(-8 482.4 753.0)" fill="none" stroke="#888" stroke-width="0.8"/>
<path d="M553.4 710.4 V722.4 A3.2 1.8 0 0 0 559.8 722.4 V710.4" fill="#fafafa" stroke="#6a6a6a" stroke-width="1.0" stroke-linejoin="round" stroke-linecap="round"/>
<ellipse cx="556.6" cy="710.4" rx="3.2" ry="1.8" transform="rotate(0 556.6 710.4)" fill="#fff" stroke="#6a6a6a" stroke-width="1.0"/>
<path d="M363.6 815.5 V827.5 A3.2 1.8 0 0 0 370.0 827.5 V815.5" fill="#fafafa" stroke="#6a6a6a" stroke-width="1.0" stroke-linejoin="round" stroke-linecap="round"/>
<ellipse cx="366.8" cy="815.5" rx="3.2" ry="1.8" transform="rotate(0 366.8 815.5)" fill="#fff" stroke="#6a6a6a" stroke-width="1.0"/>
<ellipse cx="581.1" cy="704.0" rx="6.2" ry="5.0" transform="rotate(0 581.1 704.0)" fill="#a8a8a8" stroke="#555" stroke-width="1.3"/>
<ellipse cx="581.1" cy="702.5" rx="3.6" ry="2.6" transform="rotate(0 581.1 702.5)" fill="#8a8a8a" stroke="#666" stroke-width="1.0"/>
<ellipse cx="581.1" cy="723.5" rx="6.5" ry="4.3" transform="rotate(0 581.1 723.5)" fill="#f2f2f2" stroke="#6a6a6a" stroke-width="1.1"/>
<ellipse cx="581.1" cy="722.5" rx="2.4" ry="1.6" transform="rotate(0 581.1 722.5)" fill="#aaa" stroke="#777" stroke-width="0.9"/>
<path d="M558.2 946.7 V949.5 A12.6 7.3 -10 0 0 583.0 949.5 V946.7" fill="#f5f5f5" stroke="#6a6a6a" stroke-width="1.1" stroke-linejoin="round" stroke-linecap="round"/>
<ellipse cx="570.6" cy="946.2" rx="12.6" ry="7.3" transform="rotate(-10 570.6 946.2)" fill="#fff" stroke="#6a6a6a" stroke-width="1.2"/>
<ellipse cx="570.6" cy="946.8" rx="10.3" ry="5.6" transform="rotate(-10 570.6 946.8)" fill="none" stroke="#888" stroke-width="0.9"/>
<path d="M418.9 986.0 L402.3 1053.5 Q396.3 1060.4 388.1 1062.4" fill="none" stroke="#6a6a6a" stroke-width="1.1" stroke-linejoin="round" stroke-linecap="round"/>
<path d="M423.3 987.0 L406.7 1054.5 Q405.3 1060.4 413.5 1062.4" fill="none" stroke="#6a6a6a" stroke-width="1.1" stroke-linejoin="round" stroke-linecap="round"/>
<line x1="418.9" y1="986.0" x2="423.3" y2="987.0" stroke="#6a6a6a" stroke-width="1.1"/>
<ellipse cx="400.8" cy="1064.4" rx="14.1" ry="7.2" transform="rotate(15 400.8 1064.4)" fill="#fafafa" stroke="#777" stroke-width="1.4"/>
<line x1="415.5" y1="999.5" x2="420.0" y2="1000.5" stroke="#666" stroke-width="3"/>
<line x1="418.4" y1="988.0" x2="422.8" y2="989.1" stroke="#888" stroke-width="1.5"/>
<path d="M435.3 994.0 L451.8 1063.5 Q452.6 1068.7 445.6 1070.7" fill="none" stroke="#6a6a6a" stroke-width="1.1" stroke-linejoin="round" stroke-linecap="round"/>
<path d="M439.7 993.0 L456.2 1062.5 Q461.6 1068.7 468.6 1070.7" fill="none" stroke="#6a6a6a" stroke-width="1.1" stroke-linejoin="round" stroke-linecap="round"/>
<line x1="435.3" y1="994.0" x2="439.7" y2="993.0" stroke="#6a6a6a" stroke-width="1.1"/>
<ellipse cx="457.1" cy="1072.7" rx="12.8" ry="7.0" transform="rotate(-15 457.1 1072.7)" fill="#fafafa" stroke="#777" stroke-width="1.4"/>
<line x1="438.6" y1="1007.9" x2="443.0" y2="1006.9" stroke="#666" stroke-width="3"/>
<line x1="435.8" y1="996.1" x2="440.2" y2="995.1" stroke="#888" stroke-width="1.5"/>
<path d="M363.0 856.0 L363.5 893.0 L358.0 896.0 L355.0 903.0 L357.0 910.0 L363.0 913.0 L369.0 914.0 L380.0 921.0 L408.0 937.0 L430.0 948.0 L447.0 957.0" fill="none" stroke="#5e5e5e" stroke-width="1.1" stroke-linejoin="round" stroke-linecap="round"/>
<path d="M357.5 897.0 L365.0 897.5 L369.0 902.0 L368.0 909.0" fill="none" stroke="#7c7c7c" stroke-width="0.9" stroke-linejoin="round" stroke-linecap="round"/>
<ellipse cx="361.5" cy="903.0" rx="2.6" ry="2.2" transform="rotate(0 361.5 903.0)" fill="none" stroke="#5e5e5e" stroke-width="0.9"/>
<path d="M365.0 862.0 L449.0 910.0" fill="none" stroke="#7c7c7c" stroke-width="1.0" stroke-linejoin="round" stroke-linecap="round"/>
<path d="M370.0 865.0 L370.0 917.0" fill="none" stroke="#5e5e5e" stroke-width="1.1" stroke-linejoin="round" stroke-linecap="round"/>
<path d="M376.5 868.0 L376.5 888.0" fill="none" stroke="#7c7c7c" stroke-width="0.9" stroke-linejoin="round" stroke-linecap="round"/>
<path d="M384.5 872.0 L384.5 922.0" fill="none" stroke="#5e5e5e" stroke-width="1.1" stroke-linejoin="round" stroke-linecap="round"/>
<path d="M391.0 876.0 L391.0 925.0" fill="none" stroke="#5e5e5e" stroke-width="1.1" stroke-linejoin="round" stroke-linecap="round"/>
<path d="M423.0 897.0 L423.0 945.0" fill="none" stroke="#5e5e5e" stroke-width="1.1" stroke-linejoin="round" stroke-linecap="round"/>
<path d="M427.0 892.0 L427.0 947.0" fill="none" stroke="#7c7c7c" stroke-width="1.0" stroke-linejoin="round" stroke-linecap="round"/>
<path d="M437.0 899.0 L437.0 921.0" fill="none" stroke="#7c7c7c" stroke-width="0.9" stroke-linejoin="round" stroke-linecap="round"/>
<path d="M449.0 906.0 L449.0 958.0" fill="none" stroke="#5e5e5e" stroke-width="1.1" stroke-linejoin="round" stroke-linecap="round"/>
<path d="M391.0 917.0 L423.0 936.0" fill="none" stroke="#5e5e5e" stroke-width="1.0" stroke-linejoin="round" stroke-linecap="round"/>
<path d="M391.0 923.0 L423.0 942.0" fill="none" stroke="#666" stroke-width="2.0" stroke-linejoin="round" stroke-linecap="round"/>
<path d="M391.0 896.0 L423.0 914.0" fill="none" stroke="#7c7c7c" stroke-width="0.9" stroke-linejoin="round" stroke-linecap="round"/>
<path d="M370 881 Q381 893 393 890" fill="none" stroke="#5e5e5e" stroke-width="1.0"/>
<path d="M423 907 Q434 919 449 916" fill="none" stroke="#5e5e5e" stroke-width="1.0"/>
<path d="M436 947 L449 951" fill="none" stroke="#7c7c7c" stroke-width="0.9"/>
<path d="M451.0 908.0 L451.0 957.0" fill="none" stroke="#5e5e5e" stroke-width="1.1" stroke-linejoin="round" stroke-linecap="round"/>
<path d="M464.5 906.0 L464.5 957.0" fill="none" stroke="#5e5e5e" stroke-width="1.1" stroke-linejoin="round" stroke-linecap="round"/>
<path d="M450 957 A8 3.5 0 0 0 465.5 957" fill="none" stroke="#5e5e5e" stroke-width="1.0"/>
<path d="M451 960 Q457.5 966 466 961" fill="none" stroke="#7c7c7c" stroke-width="0.9"/>
<ellipse cx="459.0" cy="908.0" rx="4.5" ry="2.2" transform="rotate(-10 459.0 908.0)" fill="none" stroke="#7c7c7c" stroke-width="0.9"/>
<path d="M466.0 960.0 L475.0 954.0 L488.0 945.0 L498.0 939.0 L508.0 926.0 L522.0 920.0 L534.0 914.0 L548.0 910.0 L560.0 905.0 L572.0 896.0 L585.0 889.0 L600.0 880.0 L612.0 872.0 L625.0 862.0 L640.0 857.0 L652.0 852.0 L662.0 848.0 L668.0 845.0" fill="none" stroke="#5e5e5e" stroke-width="1.1" stroke-linejoin="round" stroke-linecap="round"/>
<path d="M472.0 951.0 L490.0 944.0 L500.0 933.0" fill="none" stroke="#7c7c7c" stroke-width="0.9" stroke-linejoin="round" stroke-linecap="round"/>
<path d="M540.0 906.0 L560.0 900.0 L575.0 888.0" fill="none" stroke="#7c7c7c" stroke-width="0.9" stroke-linejoin="round" stroke-linecap="round"/>
<path d="M598.0 876.0 L615.0 868.0 L625.0 860.0" fill="none" stroke="#7c7c7c" stroke-width="0.9" stroke-linejoin="round" stroke-linecap="round"/>
<path d="M659.0 782.9 L667.0 786.0 L667.0 843.0 L663.0 848.0" fill="none" stroke="#5e5e5e" stroke-width="1.1" stroke-linejoin="round" stroke-linecap="round"/>
<path d="M661.0 790.0 L661.0 840.0" fill="none" stroke="#8a8a8a" stroke-width="1.0" stroke-linejoin="round" stroke-linecap="round"/>
<path d="M452.0 906.5 L666.0 785.6" fill="none" stroke="#5e5e5e" stroke-width="1.1" stroke-linejoin="round" stroke-linecap="round"/>
<ellipse cx="506.0" cy="875.6" rx="3.6" ry="2.6" transform="rotate(-15 506.0 875.6)" fill="none" stroke="#5a5a5a" stroke-width="1.3"/>
<ellipse cx="539.6" cy="858.8" rx="3.6" ry="2.6" transform="rotate(-15 539.6 858.8)" fill="none" stroke="#5a5a5a" stroke-width="1.3"/>
<ellipse cx="574.4" cy="837.2" rx="3.6" ry="2.6" transform="rotate(-15 574.4 837.2)" fill="none" stroke="#5a5a5a" stroke-width="1.3"/>
<ellipse cx="609.2" cy="816.8" rx="3.6" ry="2.6" transform="rotate(-15 609.2 816.8)" fill="none" stroke="#5a5a5a" stroke-width="1.3"/>
<ellipse cx="644.0" cy="797.6" rx="3.6" ry="2.6" transform="rotate(-15 644.0 797.6)" fill="none" stroke="#5a5a5a" stroke-width="1.3"/>
<ellipse cx="659.7" cy="789.7" rx="3.6" ry="2.6" transform="rotate(-15 659.7 789.7)" fill="none" stroke="#5a5a5a" stroke-width="1.3"/>
<path d="M509.5 893.8 L511.0 894.7 L512.0 896.2 L512.4 898.1 L512.3 900.3 L511.8 902.6 L511.1 904.9 L510.2 907.3 L509.3 909.5 L508.2 911.8 L506.8 914.1 L505.2 916.3 L503.4 918.4 L501.4 920.3 L499.3 921.9 L497.2 923.5 L495.0 925.0 L492.7 926.4 L490.4 927.7 L488.0 928.6 L485.7 929.0 L483.8 928.9 L482.2 928.1 L481.0 926.8 L480.2 925.3 L479.5 923.7 L478.9 922.2 L478.3 920.6 L477.8 919.0 L477.4 917.2 L477.4 915.1 L477.9 912.9 L478.8 910.5 L480.0 908.1 L481.6 905.8 L483.3 903.5 L485.1 901.3 L487.1 899.2 L489.2 897.3 L491.5 895.7 L493.8 894.5 L496.1 893.8 L498.2 893.4 L500.1 893.3 L502.0 893.3 L503.8 893.3 L505.8 893.3 L507.7 893.4 Z" fill="none" stroke="#858585" stroke-width="1.05" stroke-linejoin="round" stroke-linecap="round"/>
<path d="M515.3 887.6 L516.9 889.6 L517.9 892.1 L518.4 894.8 L518.6 897.6 L518.5 900.5 L518.2 903.5 L517.5 906.6 L516.5 909.7 L515.0 912.8 L513.2 915.8 L511.0 918.6 L508.6 921.3 L506.1 923.8 L503.4 926.3 L500.6 928.6 L497.6 930.7 L494.5 932.4 L491.3 933.5 L488.2 934.0 L485.4 933.7 L482.9 932.9 L480.7 931.6 L478.9 930.1 L477.1 928.6 L475.5 926.9 L474.0 925.1 L472.8 923.0 L472.0 920.5 L471.7 917.7 L472.0 914.6 L472.8 911.5 L473.9 908.3 L475.4 905.1 L477.1 902.0 L479.2 899.0 L481.5 896.1 L484.2 893.5 L487.2 891.3 L490.2 889.6 L493.3 888.3 L496.3 887.4 L499.1 886.7 L502.0 886.1 L504.9 885.6 L507.8 885.4 L510.6 885.5 L513.2 886.2 Z" fill="none" stroke="#5e5e5e" stroke-width="1.1" stroke-linejoin="round" stroke-linecap="round"/>
<ellipse cx="472.4" cy="915.0" rx="3.0" ry="2.8" transform="rotate(0 472.4 915.0)" fill="none" stroke="#555" stroke-width="1.2"/>
<ellipse cx="516.4" cy="888.0" rx="3.0" ry="2.8" transform="rotate(0 516.4 888.0)" fill="none" stroke="#555" stroke-width="1.2"/>
<ellipse cx="511.4" cy="919.0" rx="3.0" ry="2.8" transform="rotate(0 511.4 919.0)" fill="none" stroke="#555" stroke-width="1.2"/>
<path d="M580.2 854.9 L581.2 856.4 L581.7 858.2 L581.9 860.2 L581.8 862.3 L581.6 864.4 L581.2 866.6 L580.7 868.8 L579.8 871.1 L578.6 873.4 L577.0 875.7 L575.3 877.8 L573.5 879.8 L571.6 881.8 L569.7 883.7 L567.6 885.7 L565.3 887.5 L562.9 888.9 L560.5 889.9 L558.3 890.3 L556.3 890.0 L554.7 889.3 L553.3 888.4 L552.1 887.4 L550.9 886.4 L549.8 885.4 L548.7 884.2 L547.8 882.8 L547.3 881.0 L547.2 879.0 L547.6 876.8 L548.3 874.4 L549.3 872.1 L550.4 869.7 L551.8 867.3 L553.4 865.0 L555.2 862.8 L557.3 860.8 L559.6 859.1 L561.9 857.9 L564.1 857.0 L566.3 856.3 L568.3 855.6 L570.4 854.9 L572.6 854.3 L574.8 853.8 L576.9 853.6 L578.8 854.0 Z" fill="none" stroke="#858585" stroke-width="1.05" stroke-linejoin="round" stroke-linecap="round"/>
<path d="M585.2 849.7 L586.5 851.8 L587.6 854.1 L588.3 856.6 L588.8 859.3 L588.9 862.1 L588.6 865.1 L587.8 868.2 L586.6 871.3 L585.0 874.3 L583.2 877.3 L581.2 880.2 L579.1 883.1 L576.7 885.9 L574.1 888.6 L571.1 891.0 L568.0 892.8 L564.8 894.0 L561.7 894.5 L558.8 894.5 L556.2 894.1 L553.7 893.5 L551.4 892.7 L549.1 891.8 L547.0 890.7 L545.1 889.1 L543.7 887.2 L542.7 884.8 L542.2 882.1 L542.2 879.2 L542.5 876.2 L543.1 873.1 L544.0 869.9 L545.4 866.7 L547.2 863.5 L549.4 860.5 L552.0 857.8 L554.9 855.5 L557.8 853.6 L560.7 852.0 L563.6 850.5 L566.6 849.0 L569.5 847.7 L572.6 846.6 L575.7 846.0 L578.6 846.0 L581.2 846.6 L583.4 847.9 Z" fill="none" stroke="#5e5e5e" stroke-width="1.1" stroke-linejoin="round" stroke-linecap="round"/>
<ellipse cx="542.7" cy="876.6" rx="3.0" ry="2.8" transform="rotate(0 542.7 876.6)" fill="none" stroke="#555" stroke-width="1.2"/>
<ellipse cx="586.7" cy="849.6" rx="3.0" ry="2.8" transform="rotate(0 586.7 849.6)" fill="none" stroke="#555" stroke-width="1.2"/>
<ellipse cx="581.7" cy="880.6" rx="3.0" ry="2.8" transform="rotate(0 581.7 880.6)" fill="none" stroke="#555" stroke-width="1.2"/>
<path d="M648.9 818.4 L649.7 819.9 L650.4 821.5 L650.9 823.3 L651.1 825.1 L651.1 827.2 L650.6 829.4 L649.8 831.7 L648.7 833.9 L647.5 836.2 L646.1 838.4 L644.7 840.6 L643.1 842.9 L641.4 845.2 L639.3 847.4 L637.0 849.2 L634.6 850.6 L632.3 851.5 L630.0 851.8 L628.1 851.7 L626.2 851.5 L624.5 851.2 L622.8 850.9 L621.1 850.5 L619.6 849.9 L618.3 848.9 L617.3 847.5 L616.8 845.8 L616.6 843.8 L616.7 841.7 L617.0 839.5 L617.5 837.3 L618.2 834.9 L619.4 832.5 L620.9 830.1 L622.7 827.8 L624.9 825.9 L627.1 824.2 L629.2 822.8 L631.4 821.5 L633.5 820.1 L635.6 818.8 L637.9 817.5 L640.2 816.4 L642.5 815.7 L644.6 815.6 L646.4 816.1 L647.8 817.1 Z" fill="none" stroke="#858585" stroke-width="1.05" stroke-linejoin="round" stroke-linecap="round"/>
<path d="M654.0 813.0 L655.6 814.8 L656.9 816.9 L657.8 819.3 L658.1 822.1 L658.0 825.0 L657.5 828.0 L656.6 831.0 L655.6 834.1 L654.4 837.1 L653.0 840.3 L651.2 843.4 L649.1 846.5 L646.5 849.3 L643.5 851.7 L640.4 853.5 L637.2 854.8 L634.1 855.6 L631.2 856.1 L628.3 856.4 L625.6 856.6 L622.8 856.6 L620.2 856.2 L617.9 855.3 L615.9 853.9 L614.2 852.1 L613.0 849.9 L612.1 847.5 L611.5 844.9 L611.2 842.1 L611.3 839.1 L611.9 835.9 L613.1 832.7 L614.8 829.5 L617.0 826.5 L619.4 823.8 L622.0 821.3 L624.6 819.0 L627.3 816.7 L630.0 814.5 L632.9 812.4 L635.9 810.6 L639.1 809.3 L642.2 808.6 L645.1 808.5 L647.8 809.1 L650.1 810.1 L652.2 811.4 Z" fill="none" stroke="#5e5e5e" stroke-width="1.1" stroke-linejoin="round" stroke-linecap="round"/>
<ellipse cx="612.0" cy="839.4" rx="3.0" ry="2.8" transform="rotate(0 612.0 839.4)" fill="none" stroke="#555" stroke-width="1.2"/>
<ellipse cx="656.0" cy="812.4" rx="3.0" ry="2.8" transform="rotate(0 656.0 812.4)" fill="none" stroke="#555" stroke-width="1.2"/>
<ellipse cx="651.0" cy="843.4" rx="3.0" ry="2.8" transform="rotate(0 651.0 843.4)" fill="none" stroke="#555" stroke-width="1.2"/>
<ellipse cx="529.6" cy="898.0" rx="7.0" ry="9.0" transform="rotate(25 529.6 898.0)" fill="none" stroke="#5e5e5e" stroke-width="1.1"/>
<ellipse cx="531.1" cy="899.0" rx="4.0" ry="5.5" transform="rotate(25 531.1 899.0)" fill="none" stroke="#7c7c7c" stroke-width="1.0"/>
<path d="M511.6 910.0 L534.6 923.0" fill="none" stroke="#555" stroke-width="0.1" stroke-linejoin="round" stroke-linecap="round"/>
<path d="M511.6 924.0 L534.6 912.0" fill="none" stroke="#555" stroke-width="2.6" stroke-linejoin="round" stroke-linecap="round"/>
<path d="M516.6 880.0 L520.6 908.0" fill="none" stroke="#7c7c7c" stroke-width="1.0" stroke-linejoin="round" stroke-linecap="round"/>
<path d="M541.6 874.0 L543.6 902.0" fill="none" stroke="#7c7c7c" stroke-width="1.0" stroke-linejoin="round" stroke-linecap="round"/>
<path d="M507.6 892.0 L513.6 878.0 L533.6 868.0" fill="none" stroke="#7c7c7c" stroke-width="1.0" stroke-linejoin="round" stroke-linecap="round"/>
<ellipse cx="600.0" cy="856.0" rx="7.0" ry="9.0" transform="rotate(25 600.0 856.0)" fill="none" stroke="#5e5e5e" stroke-width="1.1"/>
<ellipse cx="601.5" cy="857.0" rx="4.0" ry="5.5" transform="rotate(25 601.5 857.0)" fill="none" stroke="#7c7c7c" stroke-width="1.0"/>
<path d="M582.0 868.0 L605.0 881.0" fill="none" stroke="#555" stroke-width="0.1" stroke-linejoin="round" stroke-linecap="round"/>
<path d="M582.0 882.0 L605.0 870.0" fill="none" stroke="#555" stroke-width="2.6" stroke-linejoin="round" stroke-linecap="round"/>
<path d="M587.0 838.0 L591.0 866.0" fill="none" stroke="#7c7c7c" stroke-width="1.0" stroke-linejoin="round" stroke-linecap="round"/>
<path d="M612.0 832.0 L614.0 860.0" fill="none" stroke="#7c7c7c" stroke-width="1.0" stroke-linejoin="round" stroke-linecap="round"/>
<path d="M578.0 850.0 L584.0 836.0 L604.0 826.0" fill="none" stroke="#7c7c7c" stroke-width="1.0" stroke-linejoin="round" stroke-linecap="round"/>
<path d="M452.3 900.6 L657.8 785.8 L658.0 782.4 L565.0 733.1 L555.0 734.4 L367.0 841.6 L365.4 847.9 L443.6 900.1 L452.3 900.6" fill="#fff" stroke="none" stroke-width="0" stroke-linejoin="round" stroke-linecap="round"/>
<path d="M658.0 782.4 L565.0 733.1 L555.0 734.4 L367.0 841.6 L365.4 847.9 L443.6 900.1 L452.3 900.6" fill="none" stroke="#5a5a5a" stroke-width="1.15" stroke-linejoin="round" stroke-linecap="round"/>
<path d="M443.8 898.9 L367.2 847.9" fill="none" stroke="#8a8a8a" stroke-width="0.9" stroke-linejoin="round" stroke-linecap="round"/>
<path d="M385.6 853.9 L577.2 745.2" fill="none" stroke="#5a5a5a" stroke-width="1.0" stroke-linejoin="round" stroke-linecap="round"/>
<path d="M388.4 855.8 L580.4 746.9" fill="none" stroke="#8a8a8a" stroke-width="0.9" stroke-linejoin="round" stroke-linecap="round"/>
<path d="M385.6 853.9 L389.9 863.0" fill="none" stroke="#5a5a5a" stroke-width="1.0" stroke-linejoin="round" stroke-linecap="round"/>
<path d="M396.3 861.0 Q410.5 861.5 414.1 855.2" fill="none" stroke="#5e5e5e" stroke-width="1.0"/>
<path d="M414.1 855.2 Q413.6 851.1 415.5 850.1" fill="none" stroke="#5e5e5e" stroke-width="1.0"/>
<path d="M396.3 861.0 Q389.0 854.9 391.7 850.5" fill="none" stroke="#5e5e5e" stroke-width="1.0"/>
<path d="M391.7 850.5 Q402.8 850.3 414.1 855.2" fill="none" stroke="#5e5e5e" stroke-width="1.0"/>
<path d="M395.8 848.1 L404.0 849.1 L403.9 843.5" fill="none" stroke="#707070" stroke-width="0.9"/>
<path d="M404.0 849.1 L411.0 852.6" fill="none" stroke="#7a7a7a" stroke-width="0.9"/>
<path d="M415.5 850.1 Q429.8 850.6 433.4 844.3" fill="none" stroke="#5e5e5e" stroke-width="1.0"/>
<path d="M433.4 844.3 Q432.9 840.3 434.7 839.2" fill="none" stroke="#5e5e5e" stroke-width="1.0"/>
<path d="M415.5 850.1 Q408.1 844.1 410.8 839.6" fill="none" stroke="#5e5e5e" stroke-width="1.0"/>
<path d="M410.8 839.6 Q421.9 839.4 433.4 844.3" fill="none" stroke="#5e5e5e" stroke-width="1.0"/>
<path d="M414.8 837.3 L423.1 838.2 L422.9 832.7" fill="none" stroke="#707070" stroke-width="0.9"/>
<path d="M423.1 838.2 L430.2 841.8" fill="none" stroke="#7a7a7a" stroke-width="0.9"/>
<path d="M434.7 839.2 Q449.1 839.7 452.6 833.4" fill="none" stroke="#5e5e5e" stroke-width="1.0"/>
<path d="M452.6 833.4 Q452.1 829.4 453.9 828.3" fill="none" stroke="#5e5e5e" stroke-width="1.0"/>
<path d="M434.7 839.2 Q427.2 833.2 429.8 828.8" fill="none" stroke="#5e5e5e" stroke-width="1.0"/>
<path d="M429.8 828.8 Q441.1 828.6 452.6 833.4" fill="none" stroke="#5e5e5e" stroke-width="1.0"/>
<path d="M433.9 826.5 L442.2 827.4 L442.0 821.9" fill="none" stroke="#707070" stroke-width="0.9"/>
<path d="M442.2 827.4 L449.4 830.9" fill="none" stroke="#7a7a7a" stroke-width="0.9"/>
<path d="M453.9 828.3 Q468.4 828.8 471.9 822.5" fill="none" stroke="#5e5e5e" stroke-width="1.0"/>
<path d="M471.9 822.5 Q471.3 818.5 473.1 817.5" fill="none" stroke="#5e5e5e" stroke-width="1.0"/>
<path d="M453.9 828.3 Q446.3 822.4 448.9 818.0" fill="none" stroke="#5e5e5e" stroke-width="1.0"/>
<path d="M448.9 818.0 Q460.2 817.7 471.9 822.5" fill="none" stroke="#5e5e5e" stroke-width="1.0"/>
<path d="M452.9 815.7 L461.4 816.5 L461.0 811.1" fill="none" stroke="#707070" stroke-width="0.9"/>
<path d="M461.4 816.5 L468.6 820.0" fill="none" stroke="#7a7a7a" stroke-width="0.9"/>
<path d="M473.1 817.5 Q487.7 817.9 491.1 811.6" fill="none" stroke="#5e5e5e" stroke-width="1.0"/>
<path d="M491.1 811.6 Q490.5 807.6 492.3 806.6" fill="none" stroke="#5e5e5e" stroke-width="1.0"/>
<path d="M473.1 817.5 Q465.4 811.6 467.9 807.2" fill="none" stroke="#5e5e5e" stroke-width="1.0"/>
<path d="M467.9 807.2 Q479.3 806.9 491.1 811.6" fill="none" stroke="#5e5e5e" stroke-width="1.0"/>
<path d="M472.0 804.9 L480.5 805.7 L480.1 800.3" fill="none" stroke="#707070" stroke-width="0.9"/>
<path d="M480.5 805.7 L487.8 809.1" fill="none" stroke="#7a7a7a" stroke-width="0.9"/>
<path d="M492.3 806.6 Q507.0 807.0 510.4 800.7" fill="none" stroke="#5e5e5e" stroke-width="1.0"/>
<path d="M510.4 800.7 Q509.7 796.8 511.5 795.7" fill="none" stroke="#5e5e5e" stroke-width="1.0"/>
<path d="M492.3 806.6 Q484.5 800.7 487.0 796.4" fill="none" stroke="#5e5e5e" stroke-width="1.0"/>
<path d="M487.0 796.4 Q498.5 796.1 510.4 800.7" fill="none" stroke="#5e5e5e" stroke-width="1.0"/>
<path d="M491.1 794.1 L499.6 794.9 L499.2 789.5" fill="none" stroke="#707070" stroke-width="0.9"/>
<path d="M499.6 794.9 L507.0 798.3" fill="none" stroke="#7a7a7a" stroke-width="0.9"/>
<path d="M511.5 795.7 Q526.3 796.1 529.7 789.8" fill="none" stroke="#5e5e5e" stroke-width="1.0"/>
<path d="M529.7 789.8 Q528.9 785.9 530.7 784.8" fill="none" stroke="#5e5e5e" stroke-width="1.0"/>
<path d="M511.5 795.7 Q503.5 789.9 506.1 785.6" fill="none" stroke="#5e5e5e" stroke-width="1.0"/>
<path d="M506.1 785.6 Q517.6 785.2 529.7 789.8" fill="none" stroke="#5e5e5e" stroke-width="1.0"/>
<path d="M510.1 783.3 L518.7 784.0 L518.2 778.6" fill="none" stroke="#707070" stroke-width="0.9"/>
<path d="M518.7 784.0 L526.2 787.4" fill="none" stroke="#7a7a7a" stroke-width="0.9"/>
<path d="M530.7 784.8 Q545.6 785.1 548.9 778.9" fill="none" stroke="#5e5e5e" stroke-width="1.0"/>
<path d="M548.9 778.9 Q548.1 775.0 550.0 774.0" fill="none" stroke="#5e5e5e" stroke-width="1.0"/>
<path d="M530.7 784.8 Q522.6 779.1 525.1 774.7" fill="none" stroke="#5e5e5e" stroke-width="1.0"/>
<path d="M525.1 774.7 Q536.7 774.4 548.9 778.9" fill="none" stroke="#5e5e5e" stroke-width="1.0"/>
<path d="M529.2 772.4 L537.9 773.2 L537.3 767.8" fill="none" stroke="#707070" stroke-width="0.9"/>
<path d="M537.9 773.2 L545.5 776.5" fill="none" stroke="#7a7a7a" stroke-width="0.9"/>
<path d="M550.0 774.0 Q564.9 774.2 568.2 768.0" fill="none" stroke="#5e5e5e" stroke-width="1.0"/>
<path d="M568.2 768.0 Q567.3 764.1 569.2 763.1" fill="none" stroke="#5e5e5e" stroke-width="1.0"/>
<path d="M550.0 774.0 Q541.7 768.3 544.2 763.9" fill="none" stroke="#5e5e5e" stroke-width="1.0"/>
<path d="M544.2 763.9 Q555.8 763.5 568.2 768.0" fill="none" stroke="#5e5e5e" stroke-width="1.0"/>
<path d="M548.2 761.6 L557.0 762.3 L556.3 757.0" fill="none" stroke="#707070" stroke-width="0.9"/>
<path d="M557.0 762.3 L564.7 765.6" fill="none" stroke="#7a7a7a" stroke-width="0.9"/>
<path d="M569.2 763.1 Q584.2 763.3 587.4 757.1" fill="none" stroke="#5e5e5e" stroke-width="1.0"/>
<path d="M587.4 757.1 Q586.5 753.3 588.4 752.2" fill="none" stroke="#5e5e5e" stroke-width="1.0"/>
<path d="M569.2 763.1 Q560.8 757.4 563.2 753.1" fill="none" stroke="#5e5e5e" stroke-width="1.0"/>
<path d="M563.2 753.1 Q575.0 752.7 587.4 757.1" fill="none" stroke="#5e5e5e" stroke-width="1.0"/>
<path d="M567.3 750.8 L576.1 751.5 L575.4 746.2" fill="none" stroke="#707070" stroke-width="0.9"/>
<path d="M576.1 751.5 L583.9 754.8" fill="none" stroke="#7a7a7a" stroke-width="0.9"/>
<ellipse cx="438.1" cy="858.2" rx="10.0" ry="6.5" transform="rotate(-15 438.1 858.2)" fill="none" stroke="#5a5a5a" stroke-width="1.1"/>
<ellipse cx="436.9" cy="858.9" rx="8.3" ry="5.3" transform="rotate(-15 436.9 858.9)" fill="none" stroke="#8a8a8a" stroke-width="0.8"/>
<ellipse cx="509.7" cy="817.9" rx="10.0" ry="6.5" transform="rotate(-15 509.7 817.9)" fill="none" stroke="#5a5a5a" stroke-width="1.1"/>
<ellipse cx="508.5" cy="818.6" rx="8.3" ry="5.3" transform="rotate(-15 508.5 818.6)" fill="none" stroke="#8a8a8a" stroke-width="0.8"/>
<ellipse cx="579.9" cy="778.3" rx="10.0" ry="6.5" transform="rotate(-15 579.9 778.3)" fill="none" stroke="#5a5a5a" stroke-width="1.1"/>
<ellipse cx="578.6" cy="779.0" rx="8.3" ry="5.3" transform="rotate(-15 578.6 779.0)" fill="none" stroke="#8a8a8a" stroke-width="0.8"/>
<ellipse cx="460.0" cy="849.6" rx="4.0" ry="2.6" transform="rotate(-15 460.0 849.6)" fill="none" stroke="#5a5a5a" stroke-width="1.4"/>
<ellipse cx="472.0" cy="829.6" rx="4.0" ry="2.6" transform="rotate(-15 472.0 829.6)" fill="none" stroke="#5a5a5a" stroke-width="1.4"/>
<ellipse cx="494.5" cy="828.7" rx="4.0" ry="2.6" transform="rotate(-15 494.5 828.7)" fill="none" stroke="#5a5a5a" stroke-width="1.4"/>
<ellipse cx="528.9" cy="809.6" rx="4.0" ry="2.6" transform="rotate(-15 528.9 809.6)" fill="none" stroke="#5a5a5a" stroke-width="1.4"/>
<ellipse cx="562.5" cy="789.5" rx="4.0" ry="2.6" transform="rotate(-15 562.5 789.5)" fill="none" stroke="#5a5a5a" stroke-width="1.4"/>
<ellipse cx="597.6" cy="769.6" rx="4.0" ry="2.6" transform="rotate(-15 597.6 769.6)" fill="none" stroke="#5a5a5a" stroke-width="1.4"/>
<path d="M477.9 850.3 Q473.9 844.3 480.9 842.3 Q483.9 838.3 480.9 835.3 Q487.9 831.3 495.9 833.3 Q502.9 834.3 501.9 838.3 Q499.9 841.3 493.9 842.3 L483.9 851.3" fill="none" stroke="#5a5a5a" stroke-width="1.1"/>
<path d="M535.1 818.1 Q531.1 812.1 538.1 810.1 Q541.1 806.1 538.1 803.1 Q545.1 799.1 553.1 801.1 Q560.1 802.1 559.1 806.1 Q557.1 809.1 551.1 810.1 L541.1 819.1" fill="none" stroke="#5a5a5a" stroke-width="1.1"/>
<rect x="399.0" y="869.0" width="18" height="6" rx="3" transform="rotate(28 408.0 872.0)" fill="none" stroke="#5a5a5a" stroke-width="1.0"/>
<rect x="597.3" y="757.9" width="18" height="6" rx="3" transform="rotate(28 606.3 760.9)" fill="none" stroke="#5a5a5a" stroke-width="1.0"/>
<ellipse cx="369.5" cy="847.2" rx="3.6" ry="2.4" transform="rotate(-15 369.5 847.2)" fill="none" stroke="#5a5a5a" stroke-width="1.3"/>
<ellipse cx="380.1" cy="841.1" rx="3.6" ry="2.4" transform="rotate(-15 380.1 841.1)" fill="none" stroke="#5a5a5a" stroke-width="1.3"/>
<ellipse cx="414.1" cy="821.8" rx="3.6" ry="2.4" transform="rotate(-15 414.1 821.8)" fill="none" stroke="#5a5a5a" stroke-width="1.3"/>
<ellipse cx="447.2" cy="802.9" rx="3.6" ry="2.4" transform="rotate(-15 447.2 802.9)" fill="none" stroke="#5a5a5a" stroke-width="1.3"/>
<ellipse cx="481.7" cy="783.3" rx="3.6" ry="2.4" transform="rotate(-15 481.7 783.3)" fill="none" stroke="#5a5a5a" stroke-width="1.3"/>
<ellipse cx="516.5" cy="763.5" rx="3.6" ry="2.4" transform="rotate(-15 516.5 763.5)" fill="none" stroke="#5a5a5a" stroke-width="1.3"/>
<ellipse cx="551.2" cy="743.7" rx="3.6" ry="2.4" transform="rotate(-15 551.2 743.7)" fill="none" stroke="#5a5a5a" stroke-width="1.3"/>
<ellipse cx="560.5" cy="738.4" rx="3.6" ry="2.4" transform="rotate(-15 560.5 738.4)" fill="none" stroke="#5a5a5a" stroke-width="1.3"/>
<path d="M424.2 879.5 L626.8 771.6" fill="none" stroke="#5a5a5a" stroke-width="1.0" stroke-linejoin="round" stroke-linecap="round"/>
<path d="M445.7 893.6 L645.7 781.7" fill="none" stroke="#5a5a5a" stroke-width="1.0" stroke-linejoin="round" stroke-linecap="round"/>
<path d="M424.2 879.5 L445.7 893.6" fill="none" stroke="#5a5a5a" stroke-width="1.0" stroke-linejoin="round" stroke-linecap="round"/>
<path d="M626.8 771.6 L645.7 781.7" fill="none" stroke="#5a5a5a" stroke-width="1.0" stroke-linejoin="round" stroke-linecap="round"/>
<path d="M437.6 887.8 Q435.6 873.8 446.6 869.8 Q457.6 869.8 458.6 882.8" fill="none" stroke="#707070" stroke-width="1.0"/>
<rect x="444.6" y="871.8" width="6" height="12" rx="1.5" fill="#e2e2e2" stroke="#555" stroke-width="1.0"/>
<line x1="444.6" y1="873.8" x2="450.6" y2="873.8" stroke="#666" stroke-width="0.8"/>
<line x1="444.6" y1="876.3" x2="450.6" y2="876.3" stroke="#666" stroke-width="0.8"/>
<line x1="444.6" y1="878.8" x2="450.6" y2="878.8" stroke="#666" stroke-width="0.8"/>
<path d="M441.6 884.8 Q447.6 888.8 453.6 884.8" fill="none" stroke="#777" stroke-width="0.9"/>
<path d="M463.5 873.3 Q461.5 859.3 472.5 855.3 Q483.5 855.3 484.5 868.3" fill="none" stroke="#707070" stroke-width="1.0"/>
<rect x="470.5" y="857.3" width="6" height="12" rx="1.5" fill="#e2e2e2" stroke="#555" stroke-width="1.0"/>
<line x1="470.5" y1="859.3" x2="476.5" y2="859.3" stroke="#666" stroke-width="0.8"/>
<line x1="470.5" y1="861.8" x2="476.5" y2="861.8" stroke="#666" stroke-width="0.8"/>
<line x1="470.5" y1="864.3" x2="476.5" y2="864.3" stroke="#666" stroke-width="0.8"/>
<path d="M467.5 870.3 Q473.5 874.3 479.5 870.3" fill="none" stroke="#777" stroke-width="0.9"/>
<path d="M506.8 849.0 Q504.8 835.0 515.8 831.0 Q526.8 831.0 527.8 844.0" fill="none" stroke="#707070" stroke-width="1.0"/>
<rect x="513.8" y="833.0" width="6" height="12" rx="1.5" fill="#e2e2e2" stroke="#555" stroke-width="1.0"/>
<line x1="513.8" y1="835.0" x2="519.8" y2="835.0" stroke="#666" stroke-width="0.8"/>
<line x1="513.8" y1="837.5" x2="519.8" y2="837.5" stroke="#666" stroke-width="0.8"/>
<line x1="513.8" y1="840.0" x2="519.8" y2="840.0" stroke="#666" stroke-width="0.8"/>
<path d="M510.8 846.0 Q516.8 850.0 522.8 846.0" fill="none" stroke="#777" stroke-width="0.9"/>
<path d="M533.9 833.8 Q531.9 819.8 542.9 815.8 Q553.9 815.8 554.9 828.8" fill="none" stroke="#707070" stroke-width="1.0"/>
<rect x="540.9" y="817.8" width="6" height="12" rx="1.5" fill="#e2e2e2" stroke="#555" stroke-width="1.0"/>
<line x1="540.9" y1="819.8" x2="546.9" y2="819.8" stroke="#666" stroke-width="0.8"/>
<line x1="540.9" y1="822.3" x2="546.9" y2="822.3" stroke="#666" stroke-width="0.8"/>
<line x1="540.9" y1="824.8" x2="546.9" y2="824.8" stroke="#666" stroke-width="0.8"/>
<path d="M537.9 830.8 Q543.9 834.8 549.9 830.8" fill="none" stroke="#777" stroke-width="0.9"/>
<path d="M577.6 809.2 Q575.6 795.2 586.6 791.2 Q597.6 791.2 598.6 804.2" fill="none" stroke="#707070" stroke-width="1.0"/>
<rect x="584.6" y="793.2" width="6" height="12" rx="1.5" fill="#e2e2e2" stroke="#555" stroke-width="1.0"/>
<line x1="584.6" y1="795.2" x2="590.6" y2="795.2" stroke="#666" stroke-width="0.8"/>
<line x1="584.6" y1="797.7" x2="590.6" y2="797.7" stroke="#666" stroke-width="0.8"/>
<line x1="584.6" y1="800.2" x2="590.6" y2="800.2" stroke="#666" stroke-width="0.8"/>
<path d="M581.6 806.2 Q587.6 810.2 593.6 806.2" fill="none" stroke="#777" stroke-width="0.9"/>
<path d="M603.3 794.8 Q601.3 780.8 612.3 776.8 Q623.3 776.8 624.3 789.8" fill="none" stroke="#707070" stroke-width="1.0"/>
<rect x="610.3" y="778.8" width="6" height="12" rx="1.5" fill="#e2e2e2" stroke="#555" stroke-width="1.0"/>
<line x1="610.3" y1="780.8" x2="616.3" y2="780.8" stroke="#666" stroke-width="0.8"/>
<line x1="610.3" y1="783.3" x2="616.3" y2="783.3" stroke="#666" stroke-width="0.8"/>
<line x1="610.3" y1="785.8" x2="616.3" y2="785.8" stroke="#666" stroke-width="0.8"/>
<path d="M607.3 791.8 Q613.3 795.8 619.3 791.8" fill="none" stroke="#777" stroke-width="0.9"/>
<path d="M501.9 861.1 L479.7 851.0" fill="none" stroke="#7a7a7a" stroke-width="0.9" stroke-linejoin="round" stroke-linecap="round"/>
<path d="M573.8 820.8 L550.7 811.1" fill="none" stroke="#7a7a7a" stroke-width="0.9" stroke-linejoin="round" stroke-linecap="round"/>
<path d="M634.2 785.9 L616.4 776.3" fill="none" stroke="#888" stroke-width="0.9" stroke-linejoin="round" stroke-linecap="round"/>
<path d="M638.4 783.6 L620.5 774.0" fill="none" stroke="#888" stroke-width="0.9" stroke-linejoin="round" stroke-linecap="round"/>
<line x1="643.0" y1="825.6" x2="680.3" y2="825.6" stroke="#333" stroke-width="1.6"/>
<path d="M636.5 825.6 L645 821.6 L643.5 825.6 L645 829.6 Z" fill="#333" stroke="#333" stroke-width="1.0" stroke-linejoin="round" stroke-linecap="round"/>
<text x="686.7" y="829.3" font-family='"Liberation Sans", sans-serif' font-style="italic" font-size="12.2" fill="#4a4a4a" textLength="66" lengthAdjust="spacingAndGlyphs">Einlassseite</text>
<g fill="#fff" stroke="#535353" stroke-width="1.6">
<circle cx="340" cy="470" r="13.0"/>
<circle cx="242.9" cy="560.2" r="13.0"/>
<circle cx="242.9" cy="589.4" r="13.0"/>
<circle cx="242.9" cy="631.9" r="13.0"/>
<circle cx="242.9" cy="661.3" r="13.0"/>
<circle cx="242.9" cy="706.4" r="13.0"/>
<circle cx="242.9" cy="751.4" r="13.0"/>
<circle cx="242.9" cy="780.9" r="13.0"/>
<circle cx="431.2" cy="721.9" r="13.0"/>
<circle cx="559.8" cy="676" r="13.0"/>
<circle cx="624.8" cy="685.5" r="13.0"/>
<circle cx="625.3" cy="721.1" r="13.0"/>
<circle cx="318.9" cy="806.1" r="13.0"/>
<circle cx="306.4" cy="912.8" r="13.0"/>
<circle cx="340.9" cy="980.6" r="13.0"/>
<circle cx="340.9" cy="1009.9" r="13.0"/>
<circle cx="340.9" cy="1038.8" r="13.0"/>
<circle cx="531.9" cy="1009.6" r="13.0"/>
<circle cx="531.9" cy="1038.6" r="13.0"/>
<circle cx="531.9" cy="1067.6" r="13.0"/>
<circle cx="708.5" cy="901.3" r="13.0"/>
<circle cx="708.5" cy="931.3" r="13.0"/>
<circle cx="650.9" cy="957.4" r="13.0"/>
<circle cx="650.9" cy="986.4" r="13.0"/>
</g>
<g font-family='"Liberation Sans", sans-serif' font-size="15.9" fill="#303030" text-anchor="middle">
<text x="340.0" y="475.6">11</text>
<text x="242.9" y="565.8">12</text>
<text x="242.9" y="595.0">13</text>
<text x="242.9" y="637.5">14</text>
<text x="242.9" y="666.9">15</text>
<text x="242.9" y="712.0">16</text>
<text x="242.9" y="757.0">17</text>
<text x="242.9" y="786.5">18</text>
<text x="431.2" y="727.5">19</text>
<text x="559.8" y="681.6">10</text>
<text x="624.8" y="691.1">20</text>
<text x="625.3" y="726.7">21</text>
<text x="318.9" y="811.7">10</text>
<text x="306.4" y="918.4">3</text>
<text x="340.9" y="986.2">7</text>
<text x="340.9" y="1015.5">8</text>
<text x="340.9" y="1044.4">9</text>
<text x="531.9" y="1015.2">4</text>
<text x="531.9" y="1044.2">5</text>
<text x="531.9" y="1073.2">6</text>
<text x="708.5" y="906.9">1</text>
<text x="708.5" y="936.9">2</text>
<text x="650.9" y="963.0">22</text>
<text x="650.9" y="992.0">23</text>
</g>
<g font-family='"Liberation Sans", sans-serif' font-size="10.3" fill="#333" stroke="#333" stroke-width="0.3">
<text x="182" y="563.9">MJ 98-02</text>
<text x="182" y="593.3">MJ 03-05</text>
<text x="182" y="635.8">MJ 98-02</text>
<text x="182" y="665.2">MJ 03-05</text>
<text x="182" y="755.3">MJ 98-02</text>
<text x="182" y="784.8">MJ 03-05</text>
<text x="279.3" y="984.5">MJ 98-00</text>
<text x="279.3" y="1013.8">MJ 01-02</text>
<text x="279.3" y="1042.7">MJ 03-05</text>
<text x="550.7" y="1013.5">MJ 98-00</text>
<text x="550.7" y="1042.5">MJ 01-02</text>
<text x="550.7" y="1071.5">MJ 03-05</text>
<text x="726.3" y="905.2">MJ 98-00</text>
<text x="726.3" y="935.2">MJ 01-05</text>
<text x="667.3" y="961.3">MJ 98-05</text>
<text x="667.3" y="990.3">MJ 98-05</text>
</g>
<g fill="none" stroke="#FF4545" stroke-width="5">
<rect x="226.5" y="573.5" width="34" height="33.5"/>
<line x1="259" y1="605.5" x2="979" y2="849" stroke-width="5.6"/>
<rect x="980.5" y="849.5" width="516.5" height="37"/>
</g>
</svg>
</body></html>
